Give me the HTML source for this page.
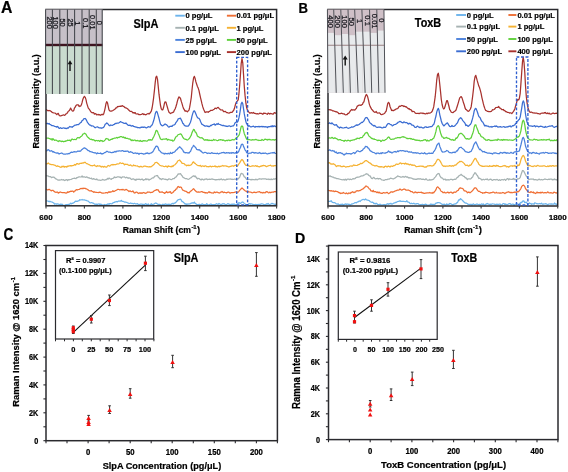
<!DOCTYPE html>
<html><head><meta charset="utf-8"><style>
html,body{margin:0;padding:0;background:#fff;width:568px;height:472px;overflow:hidden}
text{font-family:"Liberation Sans", sans-serif}
text[font-weight="bold"]{stroke:#000;stroke-width:0.22px}
</style></head><body>
<svg width="568" height="472" viewBox="0 0 568 472" style="display:block;filter:blur(0.3px);font-family:'Liberation Sans', sans-serif"><rect width="568" height="472" fill="#fff"/><polyline points="46.0,200.8 46.8,200.9 47.5,201.0 48.3,201.2 49.1,201.8 49.8,201.2 50.6,201.6 51.4,201.9 52.1,202.0 52.9,202.5 53.7,202.9 54.5,204.2 55.2,203.9 56.0,203.9 56.8,204.3 57.5,203.9 58.3,204.0 59.1,204.5 59.8,204.4 60.6,204.2 61.4,204.3 62.1,204.1 62.9,205.0 63.7,205.3 64.4,206.0 65.2,205.0 66.0,204.7 66.8,204.5 67.5,204.6 68.3,204.4 69.1,204.5 69.8,204.0 70.6,203.2 71.4,203.9 72.1,203.2 72.9,203.4 73.7,202.7 74.4,202.4 75.2,201.4 76.0,201.1 76.7,201.3 77.5,201.3 78.3,200.8 79.1,200.6 79.8,199.7 80.6,200.0 81.4,199.8 82.1,199.5 82.9,200.0 83.7,199.9 84.4,199.8 85.2,200.1 86.0,200.3 86.7,200.6 87.5,201.0 88.3,201.2 89.0,201.9 89.8,202.7 90.6,202.9 91.4,202.7 92.1,202.7 92.9,203.2 93.7,203.4 94.4,204.2 95.2,204.1 96.0,204.3 96.7,204.1 97.5,204.4 98.3,204.0 99.0,203.8 99.8,204.4 100.6,204.2 101.3,204.3 102.1,204.9 102.9,205.3 103.7,204.9 104.4,204.5 105.2,204.8 106.0,204.9 106.7,204.7 107.5,204.1 108.3,203.9 109.0,204.3 109.8,203.5 110.6,203.5 111.3,203.8 112.1,203.7 112.9,202.9 113.6,202.6 114.4,202.4 115.2,201.8 115.9,201.9 116.7,201.5 117.5,201.8 118.3,201.1 119.0,201.0 119.8,201.0 120.6,201.2 121.3,200.3 122.1,201.3 122.9,201.3 123.6,201.5 124.4,202.1 125.2,202.0 125.9,202.2 126.7,202.3 127.5,202.8 128.2,203.0 129.0,203.5 129.8,203.3 130.6,203.0 131.3,203.5 132.1,203.3 132.9,203.7 133.6,203.8 134.4,203.3 135.2,203.8 135.9,203.8 136.7,203.8 137.5,203.6 138.2,204.4 139.0,204.8 139.8,204.3 140.5,204.1 141.3,204.2 142.1,204.1 142.9,204.7 143.6,204.3 144.4,204.9 145.2,203.9 145.9,203.7 146.7,204.7 147.5,204.5 148.2,203.9 149.0,205.2 149.8,205.1 150.5,204.9 151.3,203.7 152.1,204.5 152.8,204.4 153.6,204.2 154.4,203.9 155.2,203.1 155.9,203.0 156.7,203.5 157.5,204.1 158.2,204.3 159.0,204.4 159.8,204.4 160.5,204.6 161.3,205.4 162.1,204.9 162.8,204.1 163.6,204.5 164.4,204.4 165.1,204.1 165.9,203.9 166.7,204.6 167.4,204.3 168.2,204.3 169.0,204.1 169.8,204.7 170.5,204.3 171.3,204.1 172.1,203.6 172.8,203.3 173.6,203.9 174.4,203.0 175.1,203.0 175.9,202.3 176.7,201.4 177.4,200.5 178.2,199.6 179.0,199.6 179.7,199.3 180.5,199.1 181.3,200.1 182.1,201.7 182.8,201.7 183.6,202.6 184.4,203.2 185.1,204.1 185.9,203.8 186.7,204.6 187.4,204.0 188.2,204.2 189.0,203.8 189.7,204.0 190.5,203.7 191.3,203.0 192.0,203.3 192.8,202.7 193.6,203.1 194.4,202.1 195.1,203.6 195.9,203.7 196.7,204.6 197.4,204.6 198.2,204.5 199.0,204.4 199.7,204.3 200.5,204.7 201.3,204.5 202.0,203.9 202.8,204.2 203.6,204.6 204.3,204.6 205.1,204.7 205.9,204.8 206.7,203.7 207.4,204.3 208.2,205.0 209.0,204.9 209.7,204.5 210.5,204.1 211.3,204.2 212.0,205.1 212.8,204.6 213.6,204.7 214.3,204.6 215.1,204.8 215.9,204.1 216.6,203.7 217.4,204.1 218.2,204.4 219.0,203.5 219.7,204.0 220.5,204.4 221.3,204.4 222.0,204.3 222.8,203.7 223.6,203.9 224.3,203.8 225.1,204.5 225.9,204.5 226.6,204.6 227.4,203.9 228.2,203.7 228.9,204.2 229.7,204.3 230.5,204.8 231.2,204.3 232.0,204.1 232.8,204.6 233.6,204.1 234.3,204.1 235.1,204.7 235.9,205.0 236.6,204.4 237.4,203.7 238.2,203.6 238.9,202.5 239.7,203.2 240.5,203.5 241.2,202.9 242.0,202.2 242.8,202.0 243.5,202.6 244.3,203.4 245.1,204.1 245.9,204.6 246.6,205.1 247.4,204.7 248.2,204.9 248.9,203.6 249.7,203.6 250.5,204.1 251.2,203.9 252.0,204.0 252.8,204.3 253.5,204.6 254.3,204.5 255.1,204.5 255.8,204.3 256.6,204.5 257.4,204.8 258.2,204.3 258.9,204.5 259.7,204.4 260.5,204.3 261.2,203.9 262.0,203.9 262.8,204.0 263.5,204.4 264.3,204.5 265.1,204.7 265.8,204.4 266.6,203.9 267.4,204.2 268.1,203.5 268.9,204.3 269.7,204.9 270.5,204.1 271.2,204.0 272.0,203.3 272.8,203.8 273.5,203.9 274.3,204.2 275.1,204.4 275.8,204.2 276.6,204.7" fill="none" stroke="#6cb4ec" stroke-width="1.25" stroke-linejoin="round"/><polyline points="46.0,189.0 46.8,189.5 47.5,189.9 48.3,189.6 49.1,189.3 49.8,189.8 50.6,190.3 51.4,190.9 52.1,190.3 52.9,190.3 53.7,191.1 54.5,191.5 55.2,192.2 56.0,192.3 56.8,192.1 57.5,192.0 58.3,193.2 59.1,192.6 59.8,192.2 60.6,192.0 61.4,192.5 62.1,192.6 62.9,192.5 63.7,192.6 64.4,192.7 65.2,192.9 66.0,193.1 66.8,192.8 67.5,191.8 68.3,192.4 69.1,191.7 69.8,191.8 70.6,191.2 71.4,191.4 72.1,191.1 72.9,191.2 73.7,192.2 74.4,191.1 75.2,190.9 76.0,189.9 76.7,189.7 77.5,189.9 78.3,189.5 79.1,189.4 79.8,189.1 80.6,188.5 81.4,188.7 82.1,188.1 82.9,188.8 83.7,188.1 84.4,188.3 85.2,188.3 86.0,188.9 86.7,188.8 87.5,189.7 88.3,189.8 89.0,190.6 89.8,190.8 90.6,190.8 91.4,190.7 92.1,191.4 92.9,191.6 93.7,192.3 94.4,191.9 95.2,192.2 96.0,192.4 96.7,192.4 97.5,192.5 98.3,192.6 99.0,192.3 99.8,192.1 100.6,192.3 101.3,192.7 102.1,193.2 102.9,193.2 103.7,193.2 104.4,193.0 105.2,192.9 106.0,192.6 106.7,192.7 107.5,193.0 108.3,192.2 109.0,191.7 109.8,192.4 110.6,191.9 111.3,191.8 112.1,191.6 112.9,190.7 113.6,191.5 114.4,191.4 115.2,190.7 115.9,190.5 116.7,190.0 117.5,189.4 118.3,189.4 119.0,189.5 119.8,189.8 120.6,189.7 121.3,189.5 122.1,189.9 122.9,189.3 123.6,189.8 124.4,190.2 125.2,189.9 125.9,189.4 126.7,189.6 127.5,190.3 128.2,190.8 129.0,191.5 129.8,190.9 130.6,191.2 131.3,191.7 132.1,191.7 132.9,190.9 133.6,192.0 134.4,193.0 135.2,192.9 135.9,192.2 136.7,192.2 137.5,192.5 138.2,193.5 139.0,193.1 139.8,192.8 140.5,193.3 141.3,192.8 142.1,193.4 142.9,192.7 143.6,192.5 144.4,192.9 145.2,193.3 145.9,193.1 146.7,192.9 147.5,192.0 148.2,192.1 149.0,192.2 149.8,192.2 150.5,192.6 151.3,192.3 152.1,192.4 152.8,192.0 153.6,191.3 154.4,190.8 155.2,190.4 155.9,190.2 156.7,189.6 157.5,189.9 158.2,189.9 159.0,191.5 159.8,192.3 160.5,192.2 161.3,192.1 162.1,191.9 162.8,192.3 163.6,192.5 164.4,193.4 165.1,192.9 165.9,192.4 166.7,191.5 167.4,192.7 168.2,192.6 169.0,191.9 169.8,192.3 170.5,191.7 171.3,193.4 172.1,193.0 172.8,192.5 173.6,191.8 174.4,190.5 175.1,190.3 175.9,189.1 176.7,188.9 177.4,187.2 178.2,186.5 179.0,186.9 179.7,187.4 180.5,187.0 181.3,187.3 182.1,189.0 182.8,190.2 183.6,190.3 184.4,190.9 185.1,191.2 185.9,191.3 186.7,191.6 187.4,192.5 188.2,192.5 189.0,193.0 189.7,192.1 190.5,191.5 191.3,190.6 192.0,190.2 192.8,189.3 193.6,188.7 194.4,189.6 195.1,190.6 195.9,191.2 196.7,192.0 197.4,192.1 198.2,191.9 199.0,192.2 199.7,192.2 200.5,192.0 201.3,191.6 202.0,191.6 202.8,192.2 203.6,192.4 204.3,192.3 205.1,193.0 205.9,192.7 206.7,192.8 207.4,193.1 208.2,192.4 209.0,191.7 209.7,192.5 210.5,192.3 211.3,192.9 212.0,192.8 212.8,193.0 213.6,193.0 214.3,191.9 215.1,192.6 215.9,192.3 216.6,192.1 217.4,192.2 218.2,192.7 219.0,192.9 219.7,193.0 220.5,192.1 221.3,192.1 222.0,191.5 222.8,192.1 223.6,192.6 224.3,192.2 225.1,192.5 225.9,192.6 226.6,192.9 227.4,192.3 228.2,192.1 228.9,192.1 229.7,193.0 230.5,193.1 231.2,192.6 232.0,192.6 232.8,192.5 233.6,192.5 234.3,192.4 235.1,192.2 235.9,191.8 236.6,191.8 237.4,192.5 238.2,192.1 238.9,191.3 239.7,190.3 240.5,189.4 241.2,188.7 242.0,188.0 242.8,188.5 243.5,189.5 244.3,190.1 245.1,190.7 245.9,191.2 246.6,191.4 247.4,192.3 248.2,191.4 248.9,191.9 249.7,192.0 250.5,192.0 251.2,192.3 252.0,192.8 252.8,192.6 253.5,192.4 254.3,192.2 255.1,192.3 255.8,192.7 256.6,192.4 257.4,192.0 258.2,191.8 258.9,191.8 259.7,191.7 260.5,192.6 261.2,192.6 262.0,192.4 262.8,193.0 263.5,192.4 264.3,192.7 265.1,192.8 265.8,192.0 266.6,191.7 267.4,191.8 268.1,192.5 268.9,192.9 269.7,192.1 270.5,192.7 271.2,192.4 272.0,192.2 272.8,192.1 273.5,192.2 274.3,191.6 275.1,191.7 275.8,191.7 276.6,192.3" fill="none" stroke="#ef6f35" stroke-width="1.25" stroke-linejoin="round"/><polyline points="46.0,175.4 46.8,175.9 47.5,175.9 48.3,176.0 49.1,176.7 49.8,176.7 50.6,176.7 51.4,177.7 52.1,177.3 52.9,177.1 53.7,177.1 54.5,177.6 55.2,178.4 56.0,178.9 56.8,179.3 57.5,179.9 58.3,180.1 59.1,179.9 59.8,180.1 60.6,180.0 61.4,179.5 62.1,179.9 62.9,179.8 63.7,179.7 64.4,180.5 65.2,180.3 66.0,179.7 66.8,179.6 67.5,180.5 68.3,179.7 69.1,179.8 69.8,179.6 70.6,179.5 71.4,179.4 72.1,178.8 72.9,178.5 73.7,178.4 74.4,178.1 75.2,178.4 76.0,178.6 76.7,177.6 77.5,177.7 78.3,177.1 79.1,176.9 79.8,176.9 80.6,177.0 81.4,176.8 82.1,175.9 82.9,177.1 83.7,176.9 84.4,176.8 85.2,177.3 86.0,177.1 86.7,176.8 87.5,177.5 88.3,177.9 89.0,177.6 89.8,178.3 90.6,178.5 91.4,178.1 92.1,179.2 92.9,179.1 93.7,178.6 94.4,179.1 95.2,179.3 96.0,179.7 96.7,179.0 97.5,179.8 98.3,180.0 99.0,180.0 99.8,180.0 100.6,180.3 101.3,180.2 102.1,179.9 102.9,179.4 103.7,180.0 104.4,180.1 105.2,179.8 106.0,179.6 106.7,179.7 107.5,178.4 108.3,179.0 109.0,178.0 109.8,178.6 110.6,179.0 111.3,179.4 112.1,178.5 112.9,178.4 113.6,178.0 114.4,177.0 115.2,177.6 115.9,177.4 116.7,177.3 117.5,176.8 118.3,176.9 119.0,176.9 119.8,177.3 120.6,177.1 121.3,178.2 122.1,177.2 122.9,176.9 123.6,177.0 124.4,176.8 125.2,177.7 125.9,177.8 126.7,177.2 127.5,177.7 128.2,178.4 129.0,177.7 129.8,178.2 130.6,178.4 131.3,179.5 132.1,179.3 132.9,178.9 133.6,178.9 134.4,179.8 135.2,179.3 135.9,180.3 136.7,179.1 137.5,179.3 138.2,179.4 139.0,179.2 139.8,179.4 140.5,179.8 141.3,179.4 142.1,179.0 142.9,179.9 143.6,180.3 144.4,179.6 145.2,179.7 145.9,178.7 146.7,179.7 147.5,179.1 148.2,179.2 149.0,180.2 149.8,179.3 150.5,179.3 151.3,178.8 152.1,178.1 152.8,177.8 153.6,177.8 154.4,176.6 155.2,176.0 155.9,175.9 156.7,175.7 157.5,175.5 158.2,177.1 159.0,177.7 159.8,178.8 160.5,178.6 161.3,179.7 162.1,179.0 162.8,178.6 163.6,179.0 164.4,179.2 165.1,179.5 165.9,179.2 166.7,179.6 167.4,180.0 168.2,179.4 169.0,178.9 169.8,179.0 170.5,179.5 171.3,179.7 172.1,179.2 172.8,178.6 173.6,178.5 174.4,178.5 175.1,177.4 175.9,177.2 176.7,176.1 177.4,175.1 178.2,173.9 179.0,174.1 179.7,173.8 180.5,173.6 181.3,175.0 182.1,175.7 182.8,177.1 183.6,177.7 184.4,178.0 185.1,178.6 185.9,178.7 186.7,178.6 187.4,179.0 188.2,179.3 189.0,179.0 189.7,178.6 190.5,177.9 191.3,177.6 192.0,176.8 192.8,176.3 193.6,175.8 194.4,176.6 195.1,176.0 195.9,177.0 196.7,178.0 197.4,178.9 198.2,178.4 199.0,178.5 199.7,179.0 200.5,179.7 201.3,179.9 202.0,179.0 202.8,179.3 203.6,179.9 204.3,179.6 205.1,179.1 205.9,179.1 206.7,178.8 207.4,179.7 208.2,179.4 209.0,179.3 209.7,179.1 210.5,179.3 211.3,179.1 212.0,178.9 212.8,179.3 213.6,179.3 214.3,179.6 215.1,179.6 215.9,180.0 216.6,179.6 217.4,179.6 218.2,179.6 219.0,179.2 219.7,179.8 220.5,179.4 221.3,178.8 222.0,179.7 222.8,179.8 223.6,179.3 224.3,179.8 225.1,179.9 225.9,179.9 226.6,179.1 227.4,179.4 228.2,179.0 228.9,179.0 229.7,179.0 230.5,178.9 231.2,179.4 232.0,179.1 232.8,179.5 233.6,179.4 234.3,179.1 235.1,179.2 235.9,179.4 236.6,179.6 237.4,178.9 238.2,179.0 238.9,178.0 239.7,177.1 240.5,174.8 241.2,173.4 242.0,173.7 242.8,173.9 243.5,175.3 244.3,176.9 245.1,177.2 245.9,178.4 246.6,179.5 247.4,179.6 248.2,179.4 248.9,179.5 249.7,179.4 250.5,179.6 251.2,179.9 252.0,179.4 252.8,179.6 253.5,179.5 254.3,179.7 255.1,179.8 255.8,179.1 256.6,179.7 257.4,179.8 258.2,179.1 258.9,179.1 259.7,178.7 260.5,179.0 261.2,179.3 262.0,178.9 262.8,178.9 263.5,178.8 264.3,178.9 265.1,178.9 265.8,178.8 266.6,179.4 267.4,179.3 268.1,179.0 268.9,179.6 269.7,179.2 270.5,179.6 271.2,179.0 272.0,179.7 272.8,179.3 273.5,178.9 274.3,179.3 275.1,178.8 275.8,178.7 276.6,179.2" fill="none" stroke="#a6b2b2" stroke-width="1.25" stroke-linejoin="round"/><polyline points="46.0,163.5 46.8,164.1 47.5,163.5 48.3,163.0 49.1,163.7 49.8,164.2 50.6,164.4 51.4,164.7 52.1,164.7 52.9,164.7 53.7,164.8 54.5,165.1 55.2,165.3 56.0,166.0 56.8,166.3 57.5,165.8 58.3,166.4 59.1,166.4 59.8,166.9 60.6,167.3 61.4,167.1 62.1,166.2 62.9,166.8 63.7,166.1 64.4,167.1 65.2,166.6 66.0,166.5 66.8,167.2 67.5,166.1 68.3,166.3 69.1,165.8 69.8,165.8 70.6,165.6 71.4,166.0 72.1,165.6 72.9,165.6 73.7,165.5 74.4,164.5 75.2,165.1 76.0,164.6 76.7,163.7 77.5,163.6 78.3,164.1 79.1,164.2 79.8,163.4 80.6,163.3 81.4,163.2 82.1,163.3 82.9,162.8 83.7,163.0 84.4,162.3 85.2,162.3 86.0,163.1 86.7,163.7 87.5,163.8 88.3,164.3 89.0,164.6 89.8,165.0 90.6,165.5 91.4,165.5 92.1,165.8 92.9,165.6 93.7,165.5 94.4,164.9 95.2,165.9 96.0,166.1 96.7,166.5 97.5,165.7 98.3,166.0 99.0,166.2 99.8,165.7 100.6,166.6 101.3,167.1 102.1,166.3 102.9,166.6 103.7,167.2 104.4,166.3 105.2,166.7 106.0,167.1 106.7,167.2 107.5,166.0 108.3,165.5 109.0,165.8 109.8,166.1 110.6,165.2 111.3,164.9 112.1,164.5 112.9,165.1 113.6,164.5 114.4,164.6 115.2,164.5 115.9,164.5 116.7,164.1 117.5,163.9 118.3,164.0 119.0,163.7 119.8,162.9 120.6,162.9 121.3,163.5 122.1,163.4 122.9,163.2 123.6,163.5 124.4,164.9 125.2,164.2 125.9,164.3 126.7,164.4 127.5,164.3 128.2,165.0 129.0,165.3 129.8,165.3 130.6,164.8 131.3,165.7 132.1,166.0 132.9,165.9 133.6,164.9 134.4,165.6 135.2,165.5 135.9,165.9 136.7,166.0 137.5,165.9 138.2,166.7 139.0,166.6 139.8,167.0 140.5,166.3 141.3,166.4 142.1,167.0 142.9,166.8 143.6,166.4 144.4,166.1 145.2,166.2 145.9,166.4 146.7,166.7 147.5,166.6 148.2,166.8 149.0,166.9 149.8,166.6 150.5,166.9 151.3,166.7 152.1,166.0 152.8,165.4 153.6,164.8 154.4,163.8 155.2,162.7 155.9,162.5 156.7,162.3 157.5,163.1 158.2,163.5 159.0,164.4 159.8,165.2 160.5,165.5 161.3,166.0 162.1,165.9 162.8,166.0 163.6,166.5 164.4,166.6 165.1,166.4 165.9,166.1 166.7,166.5 167.4,167.2 168.2,165.8 169.0,166.5 169.8,166.4 170.5,166.7 171.3,166.8 172.1,165.9 172.8,166.5 173.6,165.5 174.4,165.0 175.1,164.7 175.9,163.7 176.7,162.9 177.4,161.6 178.2,160.5 179.0,160.3 179.7,160.0 180.5,161.3 181.3,162.0 182.1,163.3 182.8,163.3 183.6,163.5 184.4,163.8 185.1,164.9 185.9,165.0 186.7,165.8 187.4,165.3 188.2,165.1 189.0,165.6 189.7,165.3 190.5,165.2 191.3,164.7 192.0,163.8 192.8,162.4 193.6,161.9 194.4,163.2 195.1,163.3 195.9,164.1 196.7,164.8 197.4,165.3 198.2,165.7 199.0,165.7 199.7,165.8 200.5,165.3 201.3,166.6 202.0,166.3 202.8,165.8 203.6,166.3 204.3,166.5 205.1,165.8 205.9,165.9 206.7,166.7 207.4,166.7 208.2,166.6 209.0,166.8 209.7,166.4 210.5,166.2 211.3,166.9 212.0,166.4 212.8,166.3 213.6,166.5 214.3,166.4 215.1,165.8 215.9,166.9 216.6,166.5 217.4,167.0 218.2,166.7 219.0,166.1 219.7,166.8 220.5,166.4 221.3,166.0 222.0,166.1 222.8,165.4 223.6,166.1 224.3,165.9 225.1,166.0 225.9,165.8 226.6,166.3 227.4,166.4 228.2,166.7 228.9,167.0 229.7,166.6 230.5,166.3 231.2,166.3 232.0,165.9 232.8,165.8 233.6,166.3 234.3,165.8 235.1,165.2 235.9,165.5 236.6,165.8 237.4,166.1 238.2,165.0 238.9,163.8 239.7,162.9 240.5,161.4 241.2,160.3 242.0,159.5 242.8,160.2 243.5,161.3 244.3,163.2 245.1,164.4 245.9,165.3 246.6,165.4 247.4,165.2 248.2,165.7 248.9,165.9 249.7,166.4 250.5,166.5 251.2,166.2 252.0,166.1 252.8,165.7 253.5,165.9 254.3,166.1 255.1,165.9 255.8,165.6 256.6,166.4 257.4,165.9 258.2,166.7 258.9,166.7 259.7,166.9 260.5,166.1 261.2,166.3 262.0,165.6 262.8,165.8 263.5,165.4 264.3,165.6 265.1,165.7 265.8,166.3 266.6,166.6 267.4,166.1 268.1,166.0 268.9,165.7 269.7,165.5 270.5,165.2 271.2,165.7 272.0,166.2 272.8,165.8 273.5,166.1 274.3,165.6 275.1,165.5 275.8,165.6 276.6,166.2" fill="none" stroke="#f5b233" stroke-width="1.25" stroke-linejoin="round"/><polyline points="46.0,150.8 46.8,150.8 47.5,150.0 48.3,149.6 49.1,150.3 49.8,151.0 50.6,151.0 51.4,150.7 52.1,151.1 52.9,152.1 53.7,151.6 54.5,152.5 55.2,152.7 56.0,152.9 56.8,153.2 57.5,152.9 58.3,153.1 59.1,154.0 59.8,153.5 60.6,153.4 61.4,153.0 62.1,153.2 62.9,153.8 63.7,154.2 64.4,154.1 65.2,154.0 66.0,154.0 66.8,153.8 67.5,154.0 68.3,153.5 69.1,153.8 69.8,153.3 70.6,152.5 71.4,152.2 72.1,152.4 72.9,152.3 73.7,151.8 74.4,151.7 75.2,151.9 76.0,151.9 76.7,151.9 77.5,151.2 78.3,151.2 79.1,151.4 79.8,151.0 80.6,151.1 81.4,150.0 82.1,149.4 82.9,148.8 83.7,148.1 84.4,147.9 85.2,148.2 86.0,148.7 86.7,149.3 87.5,150.0 88.3,150.7 89.0,150.7 89.8,151.6 90.6,151.5 91.4,152.0 92.1,151.9 92.9,152.5 93.7,152.6 94.4,152.8 95.2,152.7 96.0,153.1 96.7,153.8 97.5,152.9 98.3,153.4 99.0,153.5 99.8,153.4 100.6,153.0 101.3,153.9 102.1,153.7 102.9,153.8 103.7,153.2 104.4,152.6 105.2,152.6 106.0,152.0 106.7,151.3 107.5,151.4 108.3,152.1 109.0,152.1 109.8,152.1 110.6,152.3 111.3,152.7 112.1,152.6 112.9,152.2 113.6,152.4 114.4,151.8 115.2,151.3 115.9,152.1 116.7,151.2 117.5,151.2 118.3,151.1 119.0,150.9 119.8,150.8 120.6,151.0 121.3,151.0 122.1,150.6 122.9,150.7 123.6,151.3 124.4,151.4 125.2,151.1 125.9,151.3 126.7,151.1 127.5,151.0 128.2,151.4 129.0,152.4 129.8,152.1 130.6,151.6 131.3,152.2 132.1,152.3 132.9,152.9 133.6,153.4 134.4,153.1 135.2,153.2 135.9,152.9 136.7,153.6 137.5,153.2 138.2,153.3 139.0,154.3 139.8,153.4 140.5,153.5 141.3,153.4 142.1,153.6 142.9,153.7 143.6,154.1 144.4,153.8 145.2,153.8 145.9,153.1 146.7,153.4 147.5,152.9 148.2,153.6 149.0,153.4 149.8,153.6 150.5,153.0 151.3,152.9 152.1,152.4 152.8,151.8 153.6,150.5 154.4,148.9 155.2,147.6 155.9,146.4 156.7,146.1 157.5,146.6 158.2,147.7 159.0,150.2 159.8,150.9 160.5,151.5 161.3,152.7 162.1,153.0 162.8,153.0 163.6,153.6 164.4,154.0 165.1,153.2 165.9,153.7 166.7,153.6 167.4,153.8 168.2,153.2 169.0,153.8 169.8,153.8 170.5,152.4 171.3,153.3 172.1,153.5 172.8,152.4 173.6,152.5 174.4,151.9 175.1,151.4 175.9,150.3 176.7,149.8 177.4,149.0 178.2,148.0 179.0,147.4 179.7,146.7 180.5,147.8 181.3,148.2 182.1,149.4 182.8,150.1 183.6,152.1 184.4,152.1 185.1,152.9 185.9,152.7 186.7,152.7 187.4,153.0 188.2,152.7 189.0,153.2 189.7,152.0 190.5,151.5 191.3,149.4 192.0,147.7 192.8,146.8 193.6,145.3 194.4,146.4 195.1,147.0 195.9,147.9 196.7,149.5 197.4,149.7 198.2,150.0 199.0,149.6 199.7,150.0 200.5,151.0 201.3,151.0 202.0,152.2 202.8,152.9 203.6,153.0 204.3,152.4 205.1,152.5 205.9,152.4 206.7,153.1 207.4,153.5 208.2,153.2 209.0,153.2 209.7,153.3 210.5,153.5 211.3,152.9 212.0,152.7 212.8,153.3 213.6,153.4 214.3,153.4 215.1,153.3 215.9,153.5 216.6,153.5 217.4,153.1 218.2,153.8 219.0,153.8 219.7,153.3 220.5,153.2 221.3,152.9 222.0,152.6 222.8,152.6 223.6,152.4 224.3,152.6 225.1,153.1 225.9,153.1 226.6,152.6 227.4,152.9 228.2,152.8 228.9,152.6 229.7,153.3 230.5,152.8 231.2,153.3 232.0,152.5 232.8,152.9 233.6,152.7 234.3,153.2 235.1,153.1 235.9,152.6 236.6,152.8 237.4,152.8 238.2,152.2 238.9,151.1 239.7,148.8 240.5,147.5 241.2,145.0 242.0,144.1 242.8,144.3 243.5,146.4 244.3,148.0 245.1,150.1 245.9,150.8 246.6,152.6 247.4,153.0 248.2,153.5 248.9,153.5 249.7,153.2 250.5,153.2 251.2,153.1 252.0,152.3 252.8,152.3 253.5,152.6 254.3,153.2 255.1,152.6 255.8,152.9 256.6,152.8 257.4,153.2 258.2,153.4 258.9,152.8 259.7,152.5 260.5,153.4 261.2,153.6 262.0,153.2 262.8,153.4 263.5,153.2 264.3,153.3 265.1,153.0 265.8,153.2 266.6,153.7 267.4,153.8 268.1,153.8 268.9,153.3 269.7,153.5 270.5,153.0 271.2,152.9 272.0,153.0 272.8,152.6 273.5,152.9 274.3,152.3 275.1,153.4 275.8,153.5 276.6,153.3" fill="none" stroke="#4c82dc" stroke-width="1.25" stroke-linejoin="round"/><polyline points="46.0,138.2 46.8,138.2 47.5,138.2 48.3,138.1 49.1,138.5 49.8,138.7 50.6,139.3 51.4,138.8 52.1,140.2 52.9,138.6 53.7,139.5 54.5,140.3 55.2,140.2 56.0,140.1 56.8,140.5 57.5,141.0 58.3,141.5 59.1,140.6 59.8,141.1 60.6,141.0 61.4,141.6 62.1,141.2 62.9,141.4 63.7,141.8 64.4,141.4 65.2,141.4 66.0,140.9 66.8,140.9 67.5,140.2 68.3,140.3 69.1,140.4 69.8,140.2 70.6,141.1 71.4,139.6 72.1,138.9 72.9,139.5 73.7,139.7 74.4,139.4 75.2,139.5 76.0,139.7 76.7,138.6 77.5,137.7 78.3,137.7 79.1,138.0 79.8,137.6 80.6,136.8 81.4,136.3 82.1,135.6 82.9,134.0 83.7,133.9 84.4,133.2 85.2,133.6 86.0,134.3 86.7,135.6 87.5,137.0 88.3,137.5 89.0,138.2 89.8,139.0 90.6,139.3 91.4,139.1 92.1,139.8 92.9,139.7 93.7,139.9 94.4,140.3 95.2,141.0 96.0,140.4 96.7,140.5 97.5,140.8 98.3,140.5 99.0,140.8 99.8,141.4 100.6,140.4 101.3,140.8 102.1,140.6 102.9,141.5 103.7,141.1 104.4,140.7 105.2,139.8 106.0,138.6 106.7,138.5 107.5,138.9 108.3,139.2 109.0,140.3 109.8,140.2 110.6,139.5 111.3,139.2 112.1,139.3 112.9,138.5 113.6,138.5 114.4,138.2 115.2,138.2 115.9,138.0 116.7,137.5 117.5,138.0 118.3,137.3 119.0,137.5 119.8,136.9 120.6,136.6 121.3,136.7 122.1,136.9 122.9,137.5 123.6,136.9 124.4,138.0 125.2,137.4 125.9,138.4 126.7,138.4 127.5,138.3 128.2,138.9 129.0,138.8 129.8,139.1 130.6,139.4 131.3,140.7 132.1,139.8 132.9,140.7 133.6,140.3 134.4,140.0 135.2,140.1 135.9,140.9 136.7,140.6 137.5,140.4 138.2,140.9 139.0,140.9 139.8,141.3 140.5,140.5 141.3,141.3 142.1,141.5 142.9,140.8 143.6,140.7 144.4,140.9 145.2,140.7 145.9,141.0 146.7,141.1 147.5,140.8 148.2,140.2 149.0,139.6 149.8,140.2 150.5,139.6 151.3,140.1 152.1,139.9 152.8,138.4 153.6,137.0 154.4,135.3 155.2,133.2 155.9,130.9 156.7,130.4 157.5,131.4 158.2,133.4 159.0,135.1 159.8,137.2 160.5,139.0 161.3,139.3 162.1,139.6 162.8,139.2 163.6,139.1 164.4,139.2 165.1,139.1 165.9,138.8 166.7,138.7 167.4,140.2 168.2,139.3 169.0,139.8 169.8,139.8 170.5,140.1 171.3,140.4 172.1,140.0 172.8,141.2 173.6,140.8 174.4,139.8 175.1,138.4 175.9,136.8 176.7,136.5 177.4,135.6 178.2,134.5 179.0,134.3 179.7,134.1 180.5,133.8 181.3,134.2 182.1,135.7 182.8,137.1 183.6,138.3 184.4,139.0 185.1,139.3 185.9,139.2 186.7,139.8 187.4,140.0 188.2,139.4 189.0,138.7 189.7,138.0 190.5,136.5 191.3,135.1 192.0,132.6 192.8,131.0 193.6,129.4 194.4,129.9 195.1,131.9 195.9,132.4 196.7,134.0 197.4,136.1 198.2,136.7 199.0,137.0 199.7,137.6 200.5,137.9 201.3,137.9 202.0,137.7 202.8,138.6 203.6,139.2 204.3,140.1 205.1,140.2 205.9,139.6 206.7,140.2 207.4,139.7 208.2,140.5 209.0,139.9 209.7,140.5 210.5,140.4 211.3,140.1 212.0,140.7 212.8,140.3 213.6,139.3 214.3,140.1 215.1,139.9 215.9,140.0 216.6,140.3 217.4,140.6 218.2,140.4 219.0,139.9 219.7,139.9 220.5,139.7 221.3,139.9 222.0,139.9 222.8,140.4 223.6,140.0 224.3,140.5 225.1,141.0 225.9,140.7 226.6,140.3 227.4,140.7 228.2,140.0 228.9,140.0 229.7,140.6 230.5,140.4 231.2,140.1 232.0,139.8 232.8,139.5 233.6,139.9 234.3,139.9 235.1,139.2 235.9,138.1 236.6,137.7 237.4,137.0 238.2,136.2 238.9,135.4 239.7,133.2 240.5,129.5 241.2,126.6 242.0,126.0 242.8,126.7 243.5,130.3 244.3,133.7 245.1,135.5 245.9,137.4 246.6,139.0 247.4,139.8 248.2,139.7 248.9,139.7 249.7,139.7 250.5,140.0 251.2,140.2 252.0,139.9 252.8,139.7 253.5,139.8 254.3,139.8 255.1,139.7 255.8,139.4 256.6,139.8 257.4,140.2 258.2,140.1 258.9,140.5 259.7,140.3 260.5,140.4 261.2,140.5 262.0,139.4 262.8,140.0 263.5,140.4 264.3,139.7 265.1,139.1 265.8,139.3 266.6,139.6 267.4,140.0 268.1,139.3 268.9,139.7 269.7,139.4 270.5,139.8 271.2,139.8 272.0,140.0 272.8,139.7 273.5,139.7 274.3,140.2 275.1,139.5 275.8,139.8 276.6,139.6" fill="none" stroke="#5fd13b" stroke-width="1.25" stroke-linejoin="round"/><polyline points="46.0,123.2 46.8,123.7 47.5,123.3 48.3,123.9 49.1,123.5 49.8,124.3 50.6,124.5 51.4,125.4 52.1,125.7 52.9,125.7 53.7,125.8 54.5,126.3 55.2,126.5 56.0,126.5 56.8,127.2 57.5,126.4 58.3,127.2 59.1,128.4 59.8,128.3 60.6,127.6 61.4,128.4 62.1,128.3 62.9,128.0 63.7,127.9 64.4,128.1 65.2,128.5 66.0,128.2 66.8,128.7 67.5,127.9 68.3,128.1 69.1,127.1 69.8,126.5 70.6,126.8 71.4,126.9 72.1,127.3 72.9,126.5 73.7,126.2 74.4,125.3 75.2,125.2 76.0,125.2 76.7,124.6 77.5,124.7 78.3,124.7 79.1,124.1 79.8,123.3 80.6,122.6 81.4,122.1 82.1,120.6 82.9,120.2 83.7,118.9 84.4,118.7 85.2,118.5 86.0,119.4 86.7,120.7 87.5,122.4 88.3,123.5 89.0,124.3 89.8,125.2 90.6,125.1 91.4,126.0 92.1,125.9 92.9,126.0 93.7,126.3 94.4,127.2 95.2,127.8 96.0,127.3 96.7,127.0 97.5,126.8 98.3,127.4 99.0,127.8 99.8,127.9 100.6,127.9 101.3,128.3 102.1,127.9 102.9,127.8 103.7,127.2 104.4,126.1 105.2,124.3 106.0,123.7 106.7,123.0 107.5,123.4 108.3,124.3 109.0,125.3 109.8,125.8 110.6,125.0 111.3,125.2 112.1,125.4 112.9,125.1 113.6,124.6 114.4,124.4 115.2,123.4 115.9,123.6 116.7,123.2 117.5,123.1 118.3,123.1 119.0,122.8 119.8,122.2 120.6,121.6 121.3,122.0 122.1,122.4 122.9,122.7 123.6,123.2 124.4,123.3 125.2,123.5 125.9,123.0 126.7,124.0 127.5,124.3 128.2,125.4 129.0,125.5 129.8,125.1 130.6,125.6 131.3,126.1 132.1,125.9 132.9,125.7 133.6,126.5 134.4,126.6 135.2,126.8 135.9,127.1 136.7,127.1 137.5,127.6 138.2,127.6 139.0,127.6 139.8,127.9 140.5,127.6 141.3,127.1 142.1,127.4 142.9,127.0 143.6,127.4 144.4,127.0 145.2,127.3 145.9,127.8 146.7,127.8 147.5,127.2 148.2,126.7 149.0,126.8 149.8,127.2 150.5,126.9 151.3,125.5 152.1,125.0 152.8,123.2 153.6,120.8 154.4,118.0 155.2,114.0 155.9,111.9 156.7,111.3 157.5,113.1 158.2,115.6 159.0,118.3 159.8,121.6 160.5,124.1 161.3,125.1 162.1,125.6 162.8,125.8 163.6,125.3 164.4,124.5 165.1,123.9 165.9,124.6 166.7,124.8 167.4,125.6 168.2,126.7 169.0,127.2 169.8,126.4 170.5,126.4 171.3,126.1 172.1,126.3 172.8,125.4 173.6,125.0 174.4,124.8 175.1,124.3 175.9,122.6 176.7,121.6 177.4,120.7 178.2,118.8 179.0,118.7 179.7,118.4 180.5,118.2 181.3,119.9 182.1,121.5 182.8,123.4 183.6,123.9 184.4,125.6 185.1,125.7 185.9,126.1 186.7,126.0 187.4,126.2 188.2,126.2 189.0,125.2 189.7,123.7 190.5,122.2 191.3,119.3 192.0,116.2 192.8,113.4 193.6,111.1 194.4,110.9 195.1,112.1 195.9,113.9 196.7,115.9 197.4,117.4 198.2,118.2 199.0,118.4 199.7,119.3 200.5,121.4 201.3,123.1 202.0,124.4 202.8,124.6 203.6,125.4 204.3,125.6 205.1,126.1 205.9,126.2 206.7,125.8 207.4,126.3 208.2,126.1 209.0,126.8 209.7,126.5 210.5,125.3 211.3,125.6 212.0,124.9 212.8,124.5 213.6,124.4 214.3,123.8 215.1,125.1 215.9,124.6 216.6,123.8 217.4,124.3 218.2,123.3 219.0,124.4 219.7,124.5 220.5,124.7 221.3,125.2 222.0,125.3 222.8,125.6 223.6,125.3 224.3,125.9 225.1,125.9 225.9,126.3 226.6,126.2 227.4,126.5 228.2,126.2 228.9,125.9 229.7,125.9 230.5,126.6 231.2,126.3 232.0,126.2 232.8,125.8 233.6,125.8 234.3,124.5 235.1,122.7 235.9,122.2 236.6,121.9 237.4,122.2 238.2,120.6 238.9,117.9 239.7,114.0 240.5,108.9 241.2,103.7 242.0,102.2 242.8,103.8 243.5,108.7 244.3,113.9 245.1,118.0 245.9,121.6 246.6,123.7 247.4,124.7 248.2,126.4 248.9,125.6 249.7,126.2 250.5,126.8 251.2,126.8 252.0,126.7 252.8,126.3 253.5,126.2 254.3,126.9 255.1,127.2 255.8,126.5 256.6,126.7 257.4,126.6 258.2,126.8 258.9,126.4 259.7,126.9 260.5,126.5 261.2,126.6 262.0,126.3 262.8,126.9 263.5,126.5 264.3,126.8 265.1,126.6 265.8,126.9 266.6,126.8 267.4,127.6 268.1,126.6 268.9,126.9 269.7,126.5 270.5,126.5 271.2,125.9 272.0,126.8 272.8,125.7 273.5,126.5 274.3,125.9 275.1,126.2 275.8,126.6 276.6,126.2" fill="none" stroke="#3b6dd2" stroke-width="1.25" stroke-linejoin="round"/><polyline points="46.0,109.6 46.8,109.9 47.5,110.6 48.3,110.5 49.1,110.8 49.8,110.5 50.6,111.1 51.4,111.5 52.1,112.4 52.9,112.7 53.7,112.9 54.5,113.0 55.2,113.2 56.0,113.8 56.8,114.7 57.5,113.9 58.3,113.4 59.1,115.3 59.8,115.9 60.6,115.8 61.4,115.7 62.1,115.3 62.9,115.2 63.7,114.8 64.4,115.3 65.2,115.0 66.0,113.9 66.8,113.5 67.5,112.6 68.3,111.2 69.1,110.8 69.8,109.9 70.6,108.1 71.4,109.5 72.1,110.7 72.9,111.2 73.7,110.6 74.4,108.2 75.2,107.2 76.0,105.4 76.7,104.9 77.5,104.8 78.3,104.8 79.1,106.6 79.8,106.0 80.6,106.2 81.4,104.8 82.1,102.4 82.9,99.2 83.7,97.3 84.4,96.3 85.2,97.3 86.0,99.6 86.7,103.1 87.5,105.6 88.3,108.1 89.0,108.9 89.8,110.0 90.6,111.4 91.4,112.3 92.1,112.8 92.9,112.7 93.7,112.7 94.4,114.1 95.2,113.7 96.0,113.9 96.7,114.9 97.5,114.7 98.3,114.4 99.0,115.0 99.8,114.7 100.6,115.3 101.3,114.8 102.1,114.2 102.9,114.9 103.7,113.8 104.4,111.3 105.2,107.8 106.0,103.5 106.7,101.7 107.5,102.8 108.3,106.7 109.0,109.8 109.8,110.9 110.6,111.1 111.3,111.2 112.1,110.8 112.9,110.5 113.6,110.0 114.4,109.4 115.2,109.0 115.9,107.8 116.7,107.8 117.5,106.5 118.3,106.6 119.0,106.4 119.8,106.4 120.6,106.2 121.3,106.3 122.1,105.6 122.9,106.1 123.6,106.3 124.4,107.1 125.2,107.6 125.9,107.9 126.7,108.3 127.5,108.7 128.2,109.5 129.0,110.3 129.8,111.1 130.6,111.3 131.3,111.4 132.1,111.8 132.9,112.8 133.6,112.6 134.4,113.1 135.2,112.6 135.9,113.8 136.7,114.0 137.5,113.9 138.2,114.1 139.0,114.6 139.8,114.5 140.5,114.6 141.3,114.5 142.1,114.0 142.9,113.6 143.6,114.5 144.4,114.2 145.2,114.7 145.9,114.8 146.7,114.2 147.5,113.8 148.2,113.5 149.0,114.1 149.8,113.3 150.5,112.3 151.3,111.2 152.1,108.0 152.8,103.7 153.6,97.8 154.4,90.6 155.2,82.6 155.9,77.1 156.7,76.2 157.5,79.4 158.2,86.1 159.0,94.2 159.8,100.4 160.5,105.5 161.3,108.8 162.1,109.8 162.8,109.9 163.6,107.3 164.4,103.6 165.1,101.8 165.9,102.0 166.7,104.8 167.4,107.2 168.2,110.1 169.0,112.3 169.8,112.9 170.5,113.5 171.3,112.9 172.1,112.9 172.8,112.3 173.6,112.1 174.4,110.1 175.1,109.0 175.9,106.7 176.7,104.0 177.4,101.1 178.2,98.5 179.0,96.9 179.7,97.5 180.5,98.5 181.3,101.4 182.1,103.9 182.8,106.4 183.6,108.7 184.4,109.9 185.1,111.2 185.9,110.9 186.7,111.3 187.4,111.8 188.2,110.9 189.0,110.1 189.7,107.2 190.5,102.5 191.3,97.3 192.0,90.0 192.8,82.8 193.6,77.9 194.4,76.4 195.1,78.4 195.9,81.9 196.7,84.3 197.4,86.4 198.2,88.1 199.0,90.6 199.7,94.0 200.5,97.6 201.3,100.9 202.0,103.9 202.8,106.9 203.6,109.3 204.3,110.7 205.1,112.5 205.9,112.2 206.7,111.9 207.4,111.9 208.2,112.3 209.0,111.5 209.7,111.3 210.5,110.3 211.3,110.3 212.0,110.3 212.8,110.1 213.6,109.5 214.3,109.2 215.1,108.1 215.9,108.5 216.6,108.7 217.4,107.5 218.2,107.4 219.0,108.4 219.7,109.0 220.5,109.8 221.3,110.0 222.0,109.9 222.8,110.3 223.6,111.6 224.3,111.7 225.1,111.3 225.9,111.9 226.6,112.6 227.4,112.7 228.2,113.0 228.9,113.1 229.7,112.9 230.5,112.3 231.2,112.4 232.0,112.4 232.8,111.3 233.6,110.5 234.3,108.8 235.1,105.8 235.9,103.1 236.6,101.8 237.4,100.9 238.2,99.9 238.9,94.2 239.7,84.8 240.5,74.0 241.2,63.5 242.0,58.5 242.8,63.2 243.5,74.1 244.3,86.6 245.1,95.9 245.9,103.2 246.6,107.3 247.4,110.1 248.2,111.1 248.9,112.1 249.7,113.1 250.5,113.1 251.2,112.6 252.0,112.8 252.8,113.1 253.5,112.5 254.3,113.4 255.1,113.4 255.8,113.7 256.6,113.9 257.4,113.7 258.2,114.0 258.9,113.8 259.7,113.2 260.5,113.4 261.2,113.4 262.0,113.8 262.8,114.3 263.5,113.2 264.3,113.4 265.1,113.2 265.8,113.5 266.6,113.8 267.4,114.3 268.1,113.1 268.9,113.4 269.7,114.0 270.5,113.4 271.2,113.7 272.0,113.8 272.8,114.2 273.5,113.9 274.3,112.7 275.1,112.8 275.8,113.3 276.6,113.3" fill="none" stroke="#a8322e" stroke-width="1.25" stroke-linejoin="round"/><rect x="46" y="9.5" width="230.60000000000002" height="196.3" fill="none" stroke="#2a2a2e" stroke-width="1.5"/><line x1="46.0" y1="205.8" x2="46.0" y2="208.4" stroke="#3a3a3a" stroke-width="1.1"/><line x1="65.2" y1="205.8" x2="65.2" y2="208.4" stroke="#3a3a3a" stroke-width="1.1"/><line x1="84.4" y1="205.8" x2="84.4" y2="208.4" stroke="#3a3a3a" stroke-width="1.1"/><line x1="103.7" y1="205.8" x2="103.7" y2="208.4" stroke="#3a3a3a" stroke-width="1.1"/><line x1="122.9" y1="205.8" x2="122.9" y2="208.4" stroke="#3a3a3a" stroke-width="1.1"/><line x1="142.1" y1="205.8" x2="142.1" y2="208.4" stroke="#3a3a3a" stroke-width="1.1"/><line x1="161.3" y1="205.8" x2="161.3" y2="208.4" stroke="#3a3a3a" stroke-width="1.1"/><line x1="180.5" y1="205.8" x2="180.5" y2="208.4" stroke="#3a3a3a" stroke-width="1.1"/><line x1="199.7" y1="205.8" x2="199.7" y2="208.4" stroke="#3a3a3a" stroke-width="1.1"/><line x1="219.0" y1="205.8" x2="219.0" y2="208.4" stroke="#3a3a3a" stroke-width="1.1"/><line x1="238.2" y1="205.8" x2="238.2" y2="208.4" stroke="#3a3a3a" stroke-width="1.1"/><line x1="257.4" y1="205.8" x2="257.4" y2="208.4" stroke="#3a3a3a" stroke-width="1.1"/><line x1="276.6" y1="205.8" x2="276.6" y2="208.4" stroke="#3a3a3a" stroke-width="1.1"/><text x="46.0" y="219.60000000000002" font-size="8" font-weight="bold" text-anchor="middle" fill="#000">600</text><text x="84.4" y="219.60000000000002" font-size="8" font-weight="bold" text-anchor="middle" fill="#000">800</text><text x="122.9" y="219.60000000000002" font-size="8" font-weight="bold" text-anchor="middle" fill="#000">1000</text><text x="161.3" y="219.60000000000002" font-size="8" font-weight="bold" text-anchor="middle" fill="#000">1200</text><text x="199.7" y="219.60000000000002" font-size="8" font-weight="bold" text-anchor="middle" fill="#000">1400</text><text x="238.2" y="219.60000000000002" font-size="8" font-weight="bold" text-anchor="middle" fill="#000">1600</text><text x="276.6" y="219.60000000000002" font-size="8" font-weight="bold" text-anchor="middle" fill="#000">1800</text><polyline points="328.0,201.2 328.8,201.4 329.5,201.4 330.3,201.4 331.1,200.7 331.8,201.8 332.6,202.4 333.4,202.6 334.1,202.6 334.9,202.7 335.7,203.4 336.4,204.0 337.2,204.1 338.0,203.9 338.7,204.3 339.5,205.2 340.3,204.3 341.0,204.8 341.8,204.2 342.5,204.1 343.3,205.3 344.1,204.4 344.8,204.3 345.6,203.9 346.4,204.5 347.1,204.0 347.9,204.1 348.7,204.4 349.4,204.3 350.2,205.1 351.0,204.4 351.7,203.9 352.5,204.0 353.3,203.5 354.0,203.2 354.8,202.7 355.6,202.7 356.3,202.9 357.1,202.1 357.9,201.9 358.6,201.4 359.4,201.0 360.2,201.5 360.9,200.5 361.7,200.0 362.5,199.7 363.2,199.3 364.0,199.7 364.8,199.9 365.5,199.0 366.3,199.6 367.0,200.0 367.8,200.0 368.6,200.5 369.3,200.7 370.1,201.7 370.9,202.0 371.6,202.3 372.4,202.2 373.2,202.5 373.9,203.7 374.7,203.4 375.5,203.9 376.2,203.2 377.0,203.8 377.8,204.6 378.5,204.5 379.3,204.5 380.1,204.2 380.8,204.6 381.6,205.0 382.4,204.8 383.1,204.8 383.9,204.6 384.7,204.6 385.4,205.4 386.2,204.3 387.0,204.2 387.7,203.6 388.5,204.3 389.3,203.7 390.0,203.9 390.8,203.3 391.6,204.0 392.3,204.0 393.1,203.5 393.8,203.1 394.6,202.8 395.4,202.4 396.1,202.6 396.9,201.9 397.7,201.5 398.4,201.3 399.2,201.4 400.0,200.6 400.7,201.4 401.5,201.4 402.3,201.3 403.0,201.3 403.8,201.3 404.6,201.5 405.3,201.7 406.1,201.6 406.9,200.7 407.6,202.0 408.4,202.2 409.2,202.4 409.9,203.3 410.7,203.6 411.5,203.2 412.2,203.7 413.0,203.6 413.8,203.2 414.5,203.8 415.3,203.9 416.1,204.1 416.8,203.5 417.6,203.5 418.3,203.8 419.1,204.5 419.9,204.9 420.6,204.7 421.4,204.7 422.2,204.2 422.9,204.5 423.7,204.6 424.5,204.9 425.2,204.2 426.0,204.4 426.8,204.9 427.5,205.0 428.3,205.0 429.1,205.0 429.8,204.7 430.6,204.1 431.4,204.4 432.1,204.2 432.9,204.8 433.7,204.3 434.4,204.7 435.2,204.1 436.0,203.0 436.7,203.1 437.5,202.6 438.3,202.6 439.0,202.7 439.8,202.8 440.6,203.3 441.3,203.9 442.1,204.3 442.9,204.3 443.6,204.3 444.4,204.2 445.1,205.1 445.9,204.8 446.7,204.0 447.4,204.7 448.2,204.4 449.0,204.4 449.7,203.5 450.5,203.6 451.3,204.0 452.0,204.6 452.8,205.1 453.6,204.3 454.3,204.2 455.1,203.8 455.9,204.0 456.6,202.9 457.4,202.7 458.2,200.9 458.9,199.7 459.7,200.0 460.5,198.6 461.2,199.2 462.0,199.9 462.8,200.8 463.5,201.5 464.3,202.3 465.1,202.9 465.8,203.2 466.6,203.2 467.4,203.7 468.1,204.4 468.9,204.3 469.6,204.6 470.4,204.3 471.2,204.3 471.9,205.0 472.7,204.3 473.5,203.9 474.2,204.6 475.0,204.7 475.8,204.5 476.5,204.0 477.3,204.0 478.1,204.5 478.8,204.7 479.6,204.4 480.4,204.9 481.1,204.3 481.9,203.9 482.7,204.6 483.4,203.9 484.2,204.9 485.0,205.2 485.7,204.4 486.5,203.9 487.3,203.5 488.0,204.1 488.8,204.0 489.6,204.7 490.3,204.1 491.1,204.5 491.9,204.0 492.6,203.9 493.4,204.0 494.1,204.1 494.9,204.3 495.7,204.6 496.4,204.2 497.2,204.5 498.0,204.2 498.7,204.5 499.5,204.1 500.3,204.2 501.0,204.9 501.8,205.0 502.6,204.1 503.3,203.6 504.1,203.6 504.9,204.7 505.6,204.0 506.4,204.3 507.2,204.5 507.9,204.3 508.7,203.8 509.5,203.6 510.2,203.7 511.0,204.7 511.8,204.3 512.5,204.1 513.3,204.2 514.1,205.4 514.8,204.5 515.6,204.2 516.4,204.0 517.1,203.7 517.9,204.6 518.7,204.6 519.4,203.4 520.2,203.5 520.9,202.3 521.7,202.6 522.5,201.3 523.2,200.9 524.0,201.1 524.8,202.7 525.5,202.3 526.3,202.2 527.1,203.4 527.8,204.1 528.6,203.7 529.4,202.9 530.1,203.7 530.9,203.5 531.7,204.4 532.4,203.8 533.2,203.8 534.0,204.3 534.7,202.9 535.5,203.0 536.3,203.5 537.0,203.5 537.8,203.8 538.6,203.8 539.3,203.5 540.1,203.7 540.9,203.9 541.6,203.2 542.4,204.2 543.2,204.3 543.9,203.8 544.7,204.0 545.4,203.7 546.2,203.9 547.0,204.3 547.7,204.9 548.5,204.2 549.3,204.0 550.0,203.9 550.8,204.1 551.6,203.8 552.3,204.2 553.1,204.2 553.9,204.1 554.6,203.0 555.4,204.1 556.2,203.8 556.9,204.8 557.7,204.8" fill="none" stroke="#6cb4ec" stroke-width="1.25" stroke-linejoin="round"/><polyline points="328.0,190.0 328.8,190.5 329.5,190.6 330.3,191.0 331.1,190.6 331.8,191.1 332.6,191.2 333.4,190.9 334.1,191.7 334.9,191.4 335.7,191.1 336.4,191.5 337.2,191.6 338.0,191.9 338.7,192.7 339.5,192.6 340.3,193.5 341.0,193.0 341.8,193.3 342.5,193.2 343.3,192.4 344.1,193.0 344.8,193.3 345.6,193.7 346.4,192.9 347.1,193.5 347.9,193.8 348.7,193.0 349.4,193.1 350.2,193.5 351.0,192.3 351.7,192.7 352.5,191.7 353.3,192.1 354.0,192.7 354.8,192.0 355.6,192.0 356.3,190.9 357.1,190.8 357.9,190.7 358.6,191.0 359.4,190.5 360.2,190.6 360.9,190.1 361.7,189.5 362.5,189.2 363.2,188.8 364.0,187.9 364.8,187.4 365.5,186.2 366.3,186.1 367.0,186.6 367.8,186.9 368.6,188.0 369.3,189.0 370.1,189.2 370.9,190.9 371.6,190.9 372.4,191.5 373.2,190.3 373.9,191.8 374.7,191.7 375.5,191.6 376.2,192.0 377.0,192.7 377.8,191.9 378.5,192.8 379.3,192.2 380.1,193.0 380.8,193.0 381.6,193.4 382.4,193.4 383.1,192.7 383.9,192.7 384.7,193.0 385.4,192.8 386.2,192.8 387.0,192.3 387.7,192.8 388.5,193.7 389.3,193.3 390.0,192.8 390.8,191.9 391.6,191.9 392.3,192.3 393.1,191.8 393.8,191.8 394.6,191.2 395.4,190.8 396.1,190.8 396.9,190.3 397.7,190.0 398.4,190.1 399.2,189.8 400.0,188.9 400.7,189.6 401.5,190.2 402.3,189.9 403.0,189.5 403.8,189.1 404.6,189.1 405.3,189.5 406.1,190.2 406.9,190.2 407.6,190.2 408.4,190.0 409.2,190.5 409.9,190.5 410.7,191.7 411.5,191.7 412.2,191.6 413.0,192.5 413.8,192.9 414.5,192.4 415.3,191.8 416.1,192.7 416.8,192.4 417.6,192.8 418.3,192.3 419.1,192.4 419.9,192.5 420.6,192.3 421.4,192.2 422.2,193.0 422.9,192.7 423.7,193.3 424.5,193.3 425.2,193.1 426.0,193.2 426.8,192.8 427.5,192.8 428.3,192.9 429.1,192.9 429.8,192.5 430.6,193.0 431.4,192.9 432.1,193.3 432.9,192.3 433.7,192.9 434.4,191.7 435.2,190.9 436.0,189.6 436.7,187.6 437.5,186.9 438.3,187.3 439.0,188.2 439.8,188.8 440.6,190.5 441.3,191.5 442.1,191.7 442.9,192.7 443.6,192.6 444.4,192.1 445.1,192.8 445.9,192.8 446.7,192.6 447.4,192.2 448.2,192.3 449.0,193.1 449.7,192.6 450.5,192.2 451.3,192.1 452.0,192.9 452.8,193.3 453.6,192.3 454.3,192.0 455.1,192.3 455.9,192.2 456.6,191.2 457.4,190.7 458.2,190.5 458.9,189.0 459.7,188.2 460.5,187.9 461.2,188.1 462.0,188.3 462.8,188.5 463.5,189.6 464.3,190.8 465.1,190.8 465.8,191.2 466.6,191.5 467.4,192.8 468.1,192.4 468.9,192.0 469.6,192.7 470.4,192.7 471.2,191.8 471.9,191.3 472.7,190.4 473.5,189.5 474.2,188.4 475.0,187.9 475.8,187.8 476.5,188.7 477.3,190.0 478.1,190.9 478.8,191.4 479.6,191.3 480.4,192.2 481.1,192.4 481.9,192.5 482.7,193.3 483.4,193.0 484.2,192.7 485.0,192.9 485.7,192.1 486.5,192.4 487.3,192.5 488.0,192.8 488.8,192.9 489.6,193.2 490.3,192.9 491.1,192.6 491.9,192.7 492.6,192.1 493.4,192.2 494.1,192.4 494.9,193.0 495.7,192.9 496.4,192.3 497.2,192.9 498.0,193.0 498.7,192.9 499.5,193.2 500.3,192.9 501.0,193.2 501.8,193.0 502.6,192.5 503.3,192.7 504.1,193.0 504.9,193.6 505.6,192.8 506.4,192.7 507.2,192.1 507.9,192.2 508.7,191.7 509.5,192.3 510.2,192.8 511.0,192.2 511.8,192.8 512.5,192.7 513.3,192.4 514.1,192.5 514.8,191.9 515.6,192.3 516.4,192.4 517.1,191.7 517.9,191.9 518.7,191.4 519.4,190.7 520.2,189.7 520.9,188.5 521.7,186.6 522.5,185.5 523.2,185.2 524.0,185.5 524.8,186.6 525.5,188.6 526.3,189.5 527.1,190.7 527.8,191.3 528.6,192.2 529.4,192.4 530.1,192.5 530.9,191.6 531.7,192.2 532.4,192.5 533.2,192.0 534.0,193.0 534.7,192.9 535.5,193.5 536.3,193.0 537.0,192.0 537.8,192.9 538.6,192.6 539.3,192.7 540.1,193.0 540.9,192.2 541.6,192.8 542.4,192.2 543.2,192.9 543.9,192.9 544.7,192.7 545.4,192.6 546.2,192.8 547.0,192.6 547.7,191.8 548.5,192.6 549.3,192.8 550.0,192.9 550.8,192.7 551.6,192.9 552.3,193.1 553.1,193.1 553.9,192.1 554.6,192.3 555.4,192.8 556.2,192.7 556.9,193.1 557.7,192.8" fill="none" stroke="#ef6f35" stroke-width="1.25" stroke-linejoin="round"/><polyline points="328.0,176.3 328.8,176.2 329.5,176.2 330.3,175.9 331.1,176.7 331.8,176.7 332.6,177.1 333.4,177.1 334.1,177.8 334.9,177.8 335.7,178.1 336.4,178.6 337.2,178.5 338.0,178.6 338.7,178.8 339.5,179.0 340.3,179.4 341.0,179.5 341.8,179.5 342.5,179.8 343.3,179.8 344.1,179.3 344.8,180.1 345.6,179.2 346.4,180.2 347.1,179.3 347.9,179.0 348.7,179.1 349.4,179.7 350.2,179.1 351.0,179.5 351.7,179.6 352.5,178.9 353.3,178.7 354.0,178.8 354.8,178.6 355.6,178.1 356.3,177.3 357.1,177.3 357.9,177.0 358.6,177.1 359.4,177.0 360.2,176.5 360.9,176.1 361.7,175.9 362.5,175.9 363.2,175.6 364.0,175.1 364.8,174.7 365.5,174.3 366.3,173.6 367.0,174.2 367.8,174.1 368.6,175.3 369.3,175.9 370.1,175.9 370.9,177.4 371.6,178.4 372.4,178.6 373.2,177.8 373.9,177.3 374.7,178.5 375.5,178.8 376.2,178.7 377.0,178.7 377.8,178.4 378.5,179.0 379.3,178.5 380.1,178.6 380.8,179.1 381.6,179.9 382.4,180.0 383.1,180.1 383.9,180.3 384.7,180.1 385.4,179.6 386.2,179.6 387.0,179.6 387.7,179.2 388.5,179.2 389.3,179.1 390.0,178.5 390.8,178.2 391.6,178.5 392.3,178.7 393.1,178.8 393.8,178.8 394.6,178.3 395.4,177.9 396.1,177.3 396.9,176.8 397.7,175.8 398.4,176.3 399.2,176.7 400.0,176.6 400.7,177.2 401.5,177.2 402.3,176.9 403.0,176.5 403.8,177.1 404.6,177.2 405.3,176.3 406.1,176.8 406.9,177.3 407.6,176.9 408.4,177.9 409.2,177.6 409.9,178.0 410.7,177.9 411.5,178.2 412.2,178.4 413.0,179.1 413.8,178.8 414.5,179.1 415.3,179.4 416.1,179.1 416.8,179.4 417.6,178.8 418.3,178.7 419.1,179.1 419.9,178.7 420.6,178.9 421.4,179.3 422.2,179.2 422.9,179.3 423.7,179.2 424.5,179.7 425.2,179.6 426.0,178.7 426.8,179.6 427.5,180.2 428.3,180.1 429.1,180.2 429.8,179.5 430.6,180.1 431.4,179.9 432.1,179.5 432.9,179.6 433.7,179.0 434.4,177.9 435.2,177.1 436.0,176.2 436.7,174.8 437.5,174.1 438.3,173.5 439.0,173.6 439.8,175.6 440.6,176.8 441.3,177.9 442.1,177.8 442.9,178.7 443.6,179.6 444.4,179.3 445.1,179.0 445.9,180.2 446.7,179.7 447.4,179.8 448.2,179.6 449.0,180.0 449.7,179.8 450.5,179.3 451.3,179.3 452.0,179.4 452.8,180.0 453.6,179.5 454.3,179.2 455.1,179.3 455.9,179.1 456.6,178.0 457.4,177.4 458.2,176.9 458.9,175.8 459.7,175.4 460.5,175.0 461.2,174.3 462.0,175.3 462.8,175.8 463.5,176.4 464.3,176.4 465.1,177.8 465.8,177.6 466.6,178.5 467.4,179.5 468.1,178.9 468.9,178.9 469.6,178.8 470.4,179.0 471.2,178.4 471.9,177.5 472.7,176.9 473.5,174.8 474.2,173.9 475.0,172.7 475.8,173.3 476.5,174.7 477.3,175.4 478.1,176.9 478.8,178.5 479.6,178.2 480.4,178.9 481.1,179.1 481.9,180.0 482.7,179.6 483.4,179.3 484.2,179.8 485.0,179.5 485.7,179.2 486.5,179.5 487.3,179.0 488.0,179.8 488.8,180.0 489.6,179.5 490.3,179.1 491.1,179.3 491.9,180.1 492.6,180.3 493.4,179.7 494.1,179.7 494.9,179.6 495.7,179.9 496.4,179.7 497.2,179.4 498.0,180.0 498.7,180.4 499.5,179.6 500.3,180.4 501.0,180.0 501.8,179.7 502.6,179.7 503.3,180.0 504.1,179.4 504.9,179.4 505.6,180.4 506.4,179.6 507.2,178.6 507.9,178.7 508.7,179.9 509.5,178.9 510.2,179.1 511.0,179.3 511.8,179.3 512.5,179.3 513.3,178.4 514.1,179.7 514.8,179.0 515.6,179.6 516.4,179.9 517.1,179.2 517.9,178.7 518.7,178.8 519.4,178.5 520.2,177.4 520.9,175.1 521.7,172.8 522.5,170.5 523.2,170.6 524.0,171.6 524.8,173.2 525.5,174.7 526.3,176.1 527.1,177.2 527.8,178.2 528.6,179.3 529.4,179.3 530.1,179.2 530.9,179.2 531.7,179.0 532.4,179.2 533.2,179.0 534.0,179.8 534.7,179.6 535.5,179.5 536.3,179.9 537.0,179.9 537.8,180.1 538.6,179.4 539.3,179.1 540.1,179.9 540.9,179.7 541.6,179.5 542.4,179.9 543.2,179.7 543.9,179.5 544.7,179.0 545.4,179.1 546.2,179.4 547.0,179.5 547.7,179.6 548.5,179.2 549.3,179.5 550.0,179.1 550.8,179.2 551.6,179.1 552.3,179.9 553.1,179.4 553.9,179.8 554.6,179.0 555.4,179.5 556.2,180.1 556.9,179.6 557.7,180.2" fill="none" stroke="#a6b2b2" stroke-width="1.25" stroke-linejoin="round"/><polyline points="328.0,162.9 328.8,162.8 329.5,162.7 330.3,163.5 331.1,164.2 331.8,163.9 332.6,164.1 333.4,163.7 334.1,164.4 334.9,164.7 335.7,165.6 336.4,166.6 337.2,166.0 338.0,165.6 338.7,165.8 339.5,165.8 340.3,165.8 341.0,166.5 341.8,166.5 342.5,166.7 343.3,166.1 344.1,166.4 344.8,166.4 345.6,167.1 346.4,166.9 347.1,166.7 347.9,166.6 348.7,166.7 349.4,166.4 350.2,166.0 351.0,165.9 351.7,166.2 352.5,166.1 353.3,165.3 354.0,164.9 354.8,165.5 355.6,165.4 356.3,165.5 357.1,165.4 357.9,164.8 358.6,164.6 359.4,164.4 360.2,163.8 360.9,163.2 361.7,163.7 362.5,163.3 363.2,162.4 364.0,162.0 364.8,161.1 365.5,160.7 366.3,160.6 367.0,161.1 367.8,161.4 368.6,162.5 369.3,162.7 370.1,163.1 370.9,163.6 371.6,164.5 372.4,165.1 373.2,165.2 373.9,165.5 374.7,165.9 375.5,165.9 376.2,165.5 377.0,165.8 377.8,166.2 378.5,166.7 379.3,166.9 380.1,166.6 380.8,167.0 381.6,166.7 382.4,166.9 383.1,167.0 383.9,167.5 384.7,166.5 385.4,166.2 386.2,166.4 387.0,167.1 387.7,166.4 388.5,166.2 389.3,166.5 390.0,167.0 390.8,166.1 391.6,166.2 392.3,166.4 393.1,166.1 393.8,165.5 394.6,165.6 395.4,165.0 396.1,164.2 396.9,164.1 397.7,164.4 398.4,164.1 399.2,163.7 400.0,163.0 400.7,162.8 401.5,163.9 402.3,163.5 403.0,163.4 403.8,163.5 404.6,164.0 405.3,163.1 406.1,163.6 406.9,164.1 407.6,163.9 408.4,164.2 409.2,164.9 409.9,164.4 410.7,164.4 411.5,165.2 412.2,164.8 413.0,165.4 413.8,165.2 414.5,165.2 415.3,165.8 416.1,166.7 416.8,166.6 417.6,166.5 418.3,166.3 419.1,166.3 419.9,166.1 420.6,166.1 421.4,166.2 422.2,166.5 422.9,166.1 423.7,166.7 424.5,167.2 425.2,166.9 426.0,167.1 426.8,166.6 427.5,165.8 428.3,165.9 429.1,165.9 429.8,165.7 430.6,165.6 431.4,166.0 432.1,165.8 432.9,165.8 433.7,165.4 434.4,163.9 435.2,163.7 436.0,162.0 436.7,160.8 437.5,159.4 438.3,159.3 439.0,159.7 439.8,160.6 440.6,161.9 441.3,163.3 442.1,164.8 442.9,165.8 443.6,166.3 444.4,166.0 445.1,166.5 445.9,166.1 446.7,166.0 447.4,166.1 448.2,166.2 449.0,165.9 449.7,165.6 450.5,165.9 451.3,166.3 452.0,165.9 452.8,165.7 453.6,166.1 454.3,165.3 455.1,165.0 455.9,165.1 456.6,164.2 457.4,163.6 458.2,162.6 458.9,162.3 459.7,161.3 460.5,161.6 461.2,161.3 462.0,161.7 462.8,162.2 463.5,162.9 464.3,163.6 465.1,164.9 465.8,165.5 466.6,165.3 467.4,165.1 468.1,165.9 468.9,166.2 469.6,165.2 470.4,165.3 471.2,164.7 471.9,163.4 472.7,162.3 473.5,160.7 474.2,159.7 475.0,158.3 475.8,158.6 476.5,160.0 477.3,161.6 478.1,162.5 478.8,164.2 479.6,164.9 480.4,165.7 481.1,165.6 481.9,166.3 482.7,166.1 483.4,166.3 484.2,166.4 485.0,166.2 485.7,166.1 486.5,166.0 487.3,166.0 488.0,166.4 488.8,166.5 489.6,165.6 490.3,166.2 491.1,166.3 491.9,166.2 492.6,166.4 493.4,165.4 494.1,166.0 494.9,165.7 495.7,166.3 496.4,165.4 497.2,165.9 498.0,165.6 498.7,166.3 499.5,166.5 500.3,166.5 501.0,166.7 501.8,166.5 502.6,166.1 503.3,166.0 504.1,165.5 504.9,166.0 505.6,165.7 506.4,166.8 507.2,166.7 507.9,166.5 508.7,167.2 509.5,166.4 510.2,165.9 511.0,166.0 511.8,165.8 512.5,166.3 513.3,165.8 514.1,166.2 514.8,165.5 515.6,166.4 516.4,166.7 517.1,166.2 517.9,164.9 518.7,165.5 519.4,165.0 520.2,162.5 520.9,159.8 521.7,157.8 522.5,156.1 523.2,155.4 524.0,156.2 524.8,158.3 525.5,161.0 526.3,162.7 527.1,164.3 527.8,165.8 528.6,165.9 529.4,165.3 530.1,165.6 530.9,166.0 531.7,166.3 532.4,166.4 533.2,166.6 534.0,165.9 534.7,165.9 535.5,166.2 536.3,166.4 537.0,165.6 537.8,165.4 538.6,165.8 539.3,166.1 540.1,166.1 540.9,166.1 541.6,166.0 542.4,166.1 543.2,165.8 543.9,165.9 544.7,165.8 545.4,166.4 546.2,166.5 547.0,166.6 547.7,166.0 548.5,166.5 549.3,165.9 550.0,166.3 550.8,165.7 551.6,166.3 552.3,165.7 553.1,165.6 553.9,166.1 554.6,166.1 555.4,165.9 556.2,165.8 556.9,165.9 557.7,166.2" fill="none" stroke="#f5b233" stroke-width="1.25" stroke-linejoin="round"/><polyline points="328.0,150.5 328.8,150.3 329.5,149.9 330.3,150.2 331.1,150.9 331.8,150.8 332.6,150.5 333.4,151.2 334.1,150.8 334.9,152.1 335.7,152.5 336.4,152.0 337.2,153.4 338.0,153.4 338.7,152.6 339.5,152.8 340.3,152.6 341.0,153.0 341.8,153.6 342.5,153.4 343.3,154.5 344.1,155.1 344.8,154.1 345.6,154.1 346.4,153.1 347.1,153.7 347.9,153.6 348.7,153.6 349.4,153.5 350.2,153.7 351.0,154.2 351.7,153.6 352.5,153.2 353.3,152.7 354.0,152.7 354.8,153.6 355.6,152.6 356.3,151.8 357.1,150.9 357.9,150.8 358.6,151.2 359.4,151.7 360.2,151.7 360.9,151.1 361.7,150.6 362.5,150.3 363.2,149.1 364.0,148.5 364.8,147.7 365.5,146.3 366.3,146.6 367.0,146.5 367.8,147.9 368.6,148.2 369.3,149.3 370.1,150.6 370.9,151.1 371.6,151.4 372.4,152.2 373.2,152.4 373.9,152.5 374.7,153.0 375.5,153.4 376.2,153.9 377.0,153.0 377.8,153.1 378.5,153.1 379.3,153.6 380.1,153.6 380.8,152.8 381.6,153.5 382.4,152.6 383.1,152.9 383.9,153.0 384.7,153.0 385.4,153.2 386.2,152.5 387.0,152.5 387.7,152.0 388.5,151.0 389.3,151.7 390.0,152.3 390.8,152.0 391.6,152.9 392.3,152.9 393.1,152.1 393.8,151.9 394.6,151.6 395.4,151.5 396.1,152.2 396.9,151.7 397.7,150.9 398.4,151.6 399.2,150.8 400.0,150.7 400.7,150.5 401.5,150.8 402.3,150.6 403.0,150.7 403.8,150.9 404.6,151.1 405.3,151.5 406.1,151.0 406.9,151.0 407.6,151.4 408.4,152.1 409.2,151.7 409.9,152.1 410.7,152.2 411.5,151.9 412.2,152.6 413.0,152.8 413.8,152.7 414.5,152.8 415.3,152.7 416.1,152.8 416.8,153.3 417.6,152.9 418.3,153.0 419.1,153.5 419.9,153.5 420.6,153.5 421.4,153.0 422.2,153.2 422.9,153.5 423.7,153.6 424.5,152.7 425.2,153.4 426.0,153.9 426.8,153.8 427.5,153.8 428.3,153.3 429.1,153.0 429.8,153.5 430.6,153.3 431.4,153.2 432.1,153.4 432.9,153.3 433.7,151.4 434.4,150.9 435.2,149.5 436.0,147.9 436.7,145.6 437.5,144.3 438.3,143.6 439.0,143.1 439.8,146.4 440.6,148.2 441.3,150.3 442.1,151.6 442.9,152.1 443.6,152.0 444.4,151.9 445.1,151.7 445.9,151.2 446.7,150.5 447.4,150.8 448.2,151.2 449.0,152.3 449.7,152.7 450.5,152.7 451.3,152.9 452.0,152.9 452.8,152.3 453.6,152.4 454.3,152.1 455.1,152.6 455.9,151.9 456.6,150.8 457.4,150.9 458.2,149.3 458.9,148.3 459.7,147.5 460.5,147.3 461.2,147.3 462.0,148.1 462.8,148.8 463.5,149.2 464.3,150.2 465.1,151.3 465.8,151.9 466.6,151.9 467.4,152.2 468.1,152.5 468.9,152.4 469.6,151.9 470.4,151.6 471.2,151.3 471.9,149.8 472.7,148.4 473.5,145.8 474.2,144.1 475.0,142.9 475.8,141.8 476.5,143.2 477.3,145.1 478.1,146.9 478.8,148.2 479.6,149.6 480.4,149.2 481.1,150.1 481.9,150.8 482.7,151.8 483.4,151.6 484.2,151.5 485.0,152.3 485.7,152.4 486.5,152.7 487.3,153.0 488.0,153.0 488.8,153.0 489.6,153.1 490.3,153.3 491.1,153.3 491.9,153.6 492.6,154.1 493.4,153.0 494.1,152.9 494.9,153.3 495.7,152.8 496.4,153.1 497.2,153.4 498.0,153.6 498.7,153.5 499.5,153.6 500.3,152.4 501.0,152.7 501.8,152.8 502.6,153.3 503.3,152.7 504.1,152.2 504.9,152.9 505.6,152.5 506.4,153.3 507.2,152.7 507.9,153.2 508.7,153.0 509.5,153.3 510.2,153.0 511.0,152.3 511.8,153.0 512.5,153.1 513.3,153.4 514.1,152.2 514.8,151.8 515.6,151.8 516.4,151.4 517.1,151.6 517.9,151.5 518.7,151.2 519.4,150.9 520.2,147.5 520.9,145.0 521.7,141.7 522.5,138.4 523.2,137.3 524.0,138.7 524.8,142.1 525.5,146.0 526.3,148.3 527.1,150.2 527.8,151.7 528.6,152.0 529.4,153.1 530.1,152.8 530.9,152.9 531.7,153.5 532.4,152.6 533.2,152.4 534.0,152.6 534.7,153.0 535.5,153.3 536.3,152.7 537.0,153.4 537.8,153.4 538.6,153.8 539.3,154.1 540.1,153.0 540.9,153.1 541.6,152.9 542.4,152.8 543.2,152.5 543.9,153.0 544.7,153.0 545.4,152.4 546.2,152.5 547.0,152.6 547.7,152.9 548.5,153.4 549.3,153.3 550.0,153.0 550.8,153.1 551.6,153.3 552.3,152.8 553.1,152.8 553.9,152.8 554.6,153.4 555.4,153.1 556.2,153.6 556.9,153.3 557.7,153.4" fill="none" stroke="#4c82dc" stroke-width="1.25" stroke-linejoin="round"/><polyline points="328.0,138.0 328.8,138.0 329.5,137.9 330.3,138.1 331.1,138.1 331.8,137.4 332.6,137.7 333.4,138.5 334.1,138.4 334.9,137.7 335.7,138.4 336.4,138.6 337.2,139.0 338.0,139.8 338.7,139.9 339.5,139.7 340.3,139.6 341.0,140.1 341.8,140.3 342.5,140.5 343.3,140.7 344.1,141.4 344.8,140.3 345.6,140.3 346.4,140.9 347.1,140.9 347.9,140.1 348.7,140.5 349.4,140.7 350.2,141.1 351.0,140.3 351.7,140.4 352.5,140.2 353.3,139.8 354.0,140.0 354.8,139.5 355.6,139.1 356.3,139.2 357.1,138.1 357.9,138.5 358.6,138.4 359.4,138.6 360.2,137.7 360.9,137.6 361.7,137.6 362.5,137.2 363.2,135.8 364.0,135.2 364.8,133.9 365.5,132.9 366.3,132.9 367.0,132.3 367.8,133.6 368.6,135.6 369.3,136.3 370.1,136.9 370.9,137.7 371.6,138.5 372.4,138.4 373.2,139.2 373.9,138.9 374.7,139.4 375.5,139.5 376.2,139.8 377.0,140.1 377.8,140.7 378.5,140.2 379.3,140.4 380.1,140.3 380.8,141.5 381.6,141.1 382.4,140.2 383.1,140.2 383.9,140.7 384.7,140.3 385.4,139.6 386.2,139.4 387.0,138.6 387.7,137.7 388.5,137.0 389.3,137.3 390.0,138.6 390.8,139.4 391.6,139.3 392.3,139.2 393.1,139.0 393.8,139.2 394.6,138.8 395.4,138.1 396.1,138.1 396.9,137.9 397.7,137.5 398.4,137.6 399.2,137.5 400.0,137.9 400.7,137.5 401.5,137.1 402.3,137.0 403.0,136.6 403.8,137.1 404.6,137.1 405.3,137.5 406.1,137.9 406.9,138.6 407.6,138.4 408.4,138.7 409.2,138.5 409.9,138.4 410.7,138.9 411.5,138.6 412.2,139.3 413.0,139.4 413.8,139.2 414.5,139.8 415.3,139.8 416.1,140.4 416.8,139.9 417.6,140.3 418.3,140.5 419.1,140.2 419.9,140.9 420.6,140.8 421.4,140.5 422.2,140.5 422.9,140.5 423.7,139.9 424.5,139.8 425.2,139.6 426.0,140.1 426.8,141.0 427.5,140.1 428.3,140.8 429.1,140.9 429.8,140.4 430.6,139.6 431.4,140.0 432.1,139.6 432.9,138.6 433.7,138.2 434.4,136.6 435.2,134.1 436.0,131.2 436.7,127.5 437.5,126.3 438.3,125.6 439.0,126.7 439.8,129.9 440.6,133.0 441.3,135.1 442.1,136.9 442.9,137.0 443.6,138.3 444.4,138.3 445.1,137.8 445.9,137.9 446.7,137.4 447.4,138.2 448.2,138.3 449.0,138.3 449.7,139.1 450.5,139.6 451.3,139.7 452.0,140.1 452.8,139.4 453.6,140.3 454.3,140.1 455.1,140.1 455.9,138.1 456.6,138.3 457.4,137.5 458.2,136.0 458.9,134.3 459.7,133.9 460.5,133.3 461.2,133.4 462.0,133.8 462.8,134.7 463.5,135.3 464.3,136.4 465.1,137.9 465.8,138.6 466.6,139.0 467.4,138.6 468.1,138.8 468.9,139.3 469.6,139.0 470.4,138.1 471.2,137.8 471.9,135.5 472.7,133.6 473.5,130.9 474.2,127.1 475.0,124.9 475.8,124.8 476.5,126.9 477.3,129.1 478.1,131.0 478.8,133.4 479.6,133.7 480.4,135.0 481.1,136.5 481.9,136.9 482.7,137.1 483.4,137.7 484.2,138.8 485.0,139.1 485.7,140.1 486.5,140.1 487.3,140.3 488.0,139.7 488.8,139.6 489.6,140.0 490.3,140.6 491.1,140.2 491.9,140.7 492.6,140.3 493.4,140.3 494.1,140.0 494.9,140.1 495.7,139.9 496.4,139.9 497.2,140.4 498.0,139.0 498.7,139.6 499.5,139.8 500.3,139.9 501.0,140.2 501.8,139.6 502.6,140.3 503.3,139.4 504.1,140.0 504.9,139.6 505.6,139.8 506.4,139.9 507.2,139.7 507.9,140.2 508.7,140.1 509.5,139.9 510.2,140.0 511.0,140.2 511.8,140.1 512.5,140.3 513.3,140.2 514.1,139.7 514.8,139.3 515.6,138.8 516.4,138.0 517.1,137.0 517.9,137.1 518.7,136.6 519.4,135.9 520.2,133.4 520.9,130.8 521.7,125.8 522.5,121.6 523.2,120.2 524.0,121.4 524.8,125.2 525.5,129.8 526.3,133.6 527.1,136.6 527.8,137.8 528.6,138.7 529.4,139.4 530.1,139.9 530.9,139.8 531.7,140.0 532.4,140.1 533.2,139.9 534.0,139.2 534.7,139.4 535.5,139.8 536.3,139.6 537.0,139.6 537.8,140.4 538.6,140.1 539.3,140.2 540.1,139.8 540.9,140.0 541.6,139.6 542.4,139.8 543.2,140.1 543.9,139.5 544.7,139.8 545.4,139.9 546.2,140.1 547.0,139.6 547.7,139.6 548.5,139.7 549.3,139.1 550.0,140.2 550.8,140.9 551.6,140.2 552.3,140.6 553.1,140.3 553.9,140.7 554.6,140.0 555.4,140.3 556.2,140.6 556.9,139.7 557.7,139.9" fill="none" stroke="#5fd13b" stroke-width="1.25" stroke-linejoin="round"/><polyline points="328.0,123.7 328.8,123.3 329.5,122.9 330.3,123.4 331.1,123.8 331.8,122.8 332.6,123.6 333.4,124.4 334.1,124.7 334.9,125.3 335.7,124.8 336.4,124.7 337.2,126.0 338.0,127.0 338.7,127.2 339.5,128.0 340.3,127.2 341.0,127.3 341.8,127.8 342.5,127.8 343.3,128.0 344.1,127.8 344.8,127.5 345.6,127.5 346.4,127.2 347.1,127.8 347.9,128.2 348.7,128.3 349.4,128.0 350.2,127.7 351.0,127.3 351.7,126.9 352.5,127.1 353.3,127.0 354.0,126.5 354.8,126.1 355.6,125.5 356.3,124.9 357.1,125.4 357.9,124.8 358.6,124.9 359.4,124.2 360.2,123.5 360.9,123.0 361.7,122.3 362.5,122.5 363.2,121.5 364.0,120.7 364.8,119.0 365.5,117.9 366.3,117.5 367.0,117.6 367.8,118.9 368.6,119.9 369.3,121.9 370.1,123.0 370.9,123.5 371.6,124.2 372.4,125.0 373.2,125.4 373.9,126.1 374.7,125.5 375.5,126.4 376.2,127.0 377.0,127.4 377.8,127.4 378.5,127.2 379.3,127.0 380.1,127.3 380.8,127.2 381.6,127.8 382.4,127.8 383.1,127.6 383.9,127.1 384.7,127.3 385.4,127.4 386.2,126.3 387.0,124.9 387.7,123.9 388.5,123.5 389.3,123.6 390.0,124.2 390.8,124.7 391.6,124.8 392.3,125.8 393.1,125.5 393.8,124.8 394.6,124.5 395.4,124.3 396.1,124.1 396.9,123.4 397.7,122.9 398.4,122.0 399.2,121.8 400.0,121.4 400.7,121.5 401.5,122.4 402.3,122.6 403.0,122.8 403.8,121.9 404.6,122.1 405.3,122.7 406.1,122.6 406.9,122.5 407.6,123.5 408.4,124.1 409.2,123.2 409.9,123.6 410.7,123.5 411.5,124.9 412.2,125.1 413.0,125.2 413.8,125.8 414.5,126.9 415.3,127.4 416.1,127.5 416.8,126.5 417.6,126.1 418.3,126.8 419.1,127.1 419.9,127.6 420.6,127.2 421.4,127.2 422.2,127.8 422.9,127.9 423.7,128.0 424.5,127.2 425.2,126.9 426.0,126.9 426.8,127.4 427.5,127.3 428.3,127.3 429.1,126.8 429.8,126.9 430.6,126.7 431.4,126.7 432.1,126.3 432.9,125.1 433.7,124.5 434.4,122.6 435.2,118.9 436.0,116.0 436.7,112.1 437.5,109.8 438.3,108.3 439.0,110.3 439.8,114.8 440.6,118.0 441.3,121.0 442.1,123.3 442.9,124.6 443.6,125.8 444.4,125.7 445.1,124.5 445.9,123.9 446.7,123.3 447.4,122.9 448.2,124.2 449.0,125.5 449.7,126.4 450.5,126.7 451.3,126.4 452.0,125.4 452.8,126.5 453.6,126.4 454.3,126.2 455.1,125.5 455.9,124.6 456.6,123.7 457.4,122.9 458.2,120.9 458.9,119.3 459.7,118.7 460.5,117.7 461.2,118.1 462.0,119.2 462.8,120.6 463.5,121.4 464.3,122.3 465.1,123.4 465.8,125.5 466.6,125.0 467.4,125.7 468.1,126.4 468.9,125.8 469.6,125.0 470.4,124.5 471.2,123.0 471.9,120.8 472.7,117.9 473.5,114.7 474.2,110.9 475.0,108.9 475.8,108.3 476.5,109.6 477.3,111.7 478.1,114.3 478.8,116.4 479.6,117.2 480.4,118.2 481.1,120.2 481.9,121.4 482.7,122.0 483.4,123.3 484.2,125.0 485.0,126.0 485.7,125.4 486.5,125.9 487.3,126.2 488.0,126.1 488.8,126.6 489.6,126.9 490.3,126.8 491.1,126.5 491.9,127.2 492.6,126.7 493.4,126.5 494.1,126.4 494.9,126.0 495.7,126.6 496.4,126.0 497.2,126.6 498.0,127.2 498.7,126.9 499.5,126.9 500.3,126.6 501.0,126.9 501.8,127.1 502.6,127.0 503.3,126.7 504.1,126.6 504.9,127.4 505.6,127.0 506.4,127.0 507.2,126.7 507.9,127.0 508.7,126.3 509.5,126.4 510.2,125.8 511.0,127.0 511.8,126.4 512.5,125.6 513.3,125.9 514.1,125.2 514.8,125.0 515.6,123.4 516.4,123.3 517.1,121.6 517.9,121.0 518.7,119.8 519.4,119.4 520.2,117.1 520.9,112.8 521.7,108.3 522.5,102.9 523.2,100.9 524.0,102.4 524.8,107.9 525.5,114.0 526.3,118.7 527.1,122.3 527.8,123.6 528.6,125.4 529.4,125.8 530.1,126.0 530.9,125.8 531.7,126.2 532.4,126.4 533.2,126.1 534.0,126.1 534.7,125.6 535.5,126.8 536.3,126.2 537.0,126.1 537.8,126.3 538.6,126.9 539.3,126.7 540.1,126.2 540.9,126.4 541.6,126.4 542.4,126.7 543.2,127.1 543.9,127.2 544.7,127.4 545.4,126.5 546.2,127.2 547.0,127.0 547.7,126.7 548.5,126.5 549.3,126.1 550.0,126.2 550.8,126.2 551.6,125.8 552.3,125.7 553.1,126.7 553.9,127.1 554.6,127.3 555.4,126.7 556.2,126.7 556.9,126.1 557.7,126.7" fill="none" stroke="#3b6dd2" stroke-width="1.25" stroke-linejoin="round"/><polyline points="328.0,109.6 328.8,109.5 329.5,109.8 330.3,109.7 331.1,110.1 331.8,110.1 332.6,110.9 333.4,110.8 334.1,111.1 334.9,111.4 335.7,111.8 336.4,111.7 337.2,112.1 338.0,112.5 338.7,113.6 339.5,113.6 340.3,113.7 341.0,113.3 341.8,113.2 342.5,113.7 343.3,113.8 344.1,113.8 344.8,114.5 345.6,114.8 346.4,114.7 347.1,114.7 347.9,113.4 348.7,113.5 349.4,112.3 350.2,111.2 351.0,110.1 351.7,109.5 352.5,110.1 353.3,109.9 354.0,109.9 354.8,110.1 355.6,109.1 356.3,108.6 357.1,106.4 357.9,105.9 358.6,105.3 359.4,105.1 360.2,105.1 360.9,105.4 361.7,104.8 362.5,104.4 363.2,102.5 364.0,101.7 364.8,98.2 365.5,96.1 366.3,94.5 367.0,95.1 367.8,97.3 368.6,100.6 369.3,104.1 370.1,106.4 370.9,107.9 371.6,109.3 372.4,110.0 373.2,111.0 373.9,111.7 374.7,112.3 375.5,112.2 376.2,111.5 377.0,112.8 377.8,113.2 378.5,113.0 379.3,112.8 380.1,113.4 380.8,114.5 381.6,114.6 382.4,114.3 383.1,114.2 383.9,113.8 384.7,113.3 385.4,112.0 386.2,111.1 387.0,107.2 387.7,103.6 388.5,102.3 389.3,103.4 390.0,106.5 390.8,108.4 391.6,110.5 392.3,110.2 393.1,110.8 393.8,110.4 394.6,109.9 395.4,109.6 396.1,108.8 396.9,108.8 397.7,108.5 398.4,107.6 399.2,106.2 400.0,106.4 400.7,106.1 401.5,105.5 402.3,105.6 403.0,105.8 403.8,106.5 404.6,106.2 405.3,106.8 406.1,106.6 406.9,107.5 407.6,108.0 408.4,108.9 409.2,108.7 409.9,109.5 410.7,109.5 411.5,110.4 412.2,111.6 413.0,111.4 413.8,111.5 414.5,112.0 415.3,113.1 416.1,113.3 416.8,113.5 417.6,113.4 418.3,113.4 419.1,113.6 419.9,113.2 420.6,113.0 421.4,113.2 422.2,113.1 422.9,113.6 423.7,113.2 424.5,113.7 425.2,113.8 426.0,113.8 426.8,113.1 427.5,113.7 428.3,113.0 429.1,113.2 429.8,113.2 430.6,112.8 431.4,112.3 432.1,111.4 432.9,109.6 433.7,106.9 434.4,102.1 435.2,96.7 436.0,88.5 436.7,80.3 437.5,74.6 438.3,73.2 439.0,77.2 439.8,84.6 440.6,92.4 441.3,99.5 442.1,104.5 442.9,107.5 443.6,108.9 444.4,108.4 445.1,106.2 445.9,103.5 446.7,100.6 447.4,100.7 448.2,103.5 449.0,106.5 449.7,109.7 450.5,110.7 451.3,112.2 452.0,112.5 452.8,112.6 453.6,112.1 454.3,111.5 455.1,111.0 455.9,110.2 456.6,108.3 457.4,105.8 458.2,103.1 458.9,100.7 459.7,97.9 460.5,97.1 461.2,96.6 462.0,97.9 462.8,100.4 463.5,102.8 464.3,105.0 465.1,108.1 465.8,109.4 466.6,109.8 467.4,110.8 468.1,111.4 468.9,111.0 469.6,110.1 470.4,109.0 471.2,106.7 471.9,101.8 472.7,95.9 473.5,88.9 474.2,81.4 475.0,76.9 475.8,75.4 476.5,77.8 477.3,80.9 478.1,83.7 478.8,86.1 479.6,87.8 480.4,90.6 481.1,93.4 481.9,97.6 482.7,100.9 483.4,103.9 484.2,106.8 485.0,108.9 485.7,110.4 486.5,110.8 487.3,111.3 488.0,111.3 488.8,111.6 489.6,111.7 490.3,111.7 491.1,111.5 491.9,110.6 492.6,109.7 493.4,109.8 494.1,109.5 494.9,108.8 495.7,107.6 496.4,107.5 497.2,107.3 498.0,107.3 498.7,106.5 499.5,107.8 500.3,108.1 501.0,108.8 501.8,109.6 502.6,109.6 503.3,109.5 504.1,110.5 504.9,110.5 505.6,111.6 506.4,111.7 507.2,112.3 507.9,112.4 508.7,112.5 509.5,113.1 510.2,112.9 511.0,112.9 511.8,113.6 512.5,112.7 513.3,111.6 514.1,110.4 514.8,109.0 515.6,106.0 516.4,103.4 517.1,100.7 517.9,99.4 518.7,99.9 519.4,98.2 520.2,93.3 520.9,83.9 521.7,72.5 522.5,61.6 523.2,57.2 524.0,62.3 524.8,72.7 525.5,85.8 526.3,96.4 527.1,103.2 527.8,107.1 528.6,109.6 529.4,111.8 530.1,112.4 530.9,112.2 531.7,112.1 532.4,112.7 533.2,113.0 534.0,112.8 534.7,113.1 535.5,113.1 536.3,113.2 537.0,113.2 537.8,113.6 538.6,113.7 539.3,113.8 540.1,114.2 540.9,113.3 541.6,113.2 542.4,113.0 543.2,113.2 543.9,113.1 544.7,112.6 545.4,112.5 546.2,113.5 547.0,113.7 547.7,112.9 548.5,113.7 549.3,113.2 550.0,114.0 550.8,114.1 551.6,113.8 552.3,113.4 553.1,113.0 553.9,113.5 554.6,113.6 555.4,113.4 556.2,113.3 556.9,113.1 557.7,113.5" fill="none" stroke="#a8322e" stroke-width="1.25" stroke-linejoin="round"/><rect x="328" y="9.5" width="229.70000000000005" height="196.5" fill="none" stroke="#2a2a2e" stroke-width="1.5"/><line x1="328.0" y1="206.0" x2="328.0" y2="208.6" stroke="#3a3a3a" stroke-width="1.1"/><line x1="347.1" y1="206.0" x2="347.1" y2="208.6" stroke="#3a3a3a" stroke-width="1.1"/><line x1="366.3" y1="206.0" x2="366.3" y2="208.6" stroke="#3a3a3a" stroke-width="1.1"/><line x1="385.4" y1="206.0" x2="385.4" y2="208.6" stroke="#3a3a3a" stroke-width="1.1"/><line x1="404.6" y1="206.0" x2="404.6" y2="208.6" stroke="#3a3a3a" stroke-width="1.1"/><line x1="423.7" y1="206.0" x2="423.7" y2="208.6" stroke="#3a3a3a" stroke-width="1.1"/><line x1="442.9" y1="206.0" x2="442.9" y2="208.6" stroke="#3a3a3a" stroke-width="1.1"/><line x1="462.0" y1="206.0" x2="462.0" y2="208.6" stroke="#3a3a3a" stroke-width="1.1"/><line x1="481.1" y1="206.0" x2="481.1" y2="208.6" stroke="#3a3a3a" stroke-width="1.1"/><line x1="500.3" y1="206.0" x2="500.3" y2="208.6" stroke="#3a3a3a" stroke-width="1.1"/><line x1="519.4" y1="206.0" x2="519.4" y2="208.6" stroke="#3a3a3a" stroke-width="1.1"/><line x1="538.6" y1="206.0" x2="538.6" y2="208.6" stroke="#3a3a3a" stroke-width="1.1"/><line x1="557.7" y1="206.0" x2="557.7" y2="208.6" stroke="#3a3a3a" stroke-width="1.1"/><text x="328.0" y="219.8" font-size="8" font-weight="bold" text-anchor="middle" fill="#000">600</text><text x="366.3" y="219.8" font-size="8" font-weight="bold" text-anchor="middle" fill="#000">800</text><text x="404.6" y="219.8" font-size="8" font-weight="bold" text-anchor="middle" fill="#000">1000</text><text x="442.9" y="219.8" font-size="8" font-weight="bold" text-anchor="middle" fill="#000">1200</text><text x="481.1" y="219.8" font-size="8" font-weight="bold" text-anchor="middle" fill="#000">1400</text><text x="519.4" y="219.8" font-size="8" font-weight="bold" text-anchor="middle" fill="#000">1600</text><text x="557.7" y="219.8" font-size="8" font-weight="bold" text-anchor="middle" fill="#000">1800</text><text x="1.0" y="12.9" font-size="15.8" font-weight="bold" fill="#000">A</text><text transform="translate(298.4,13.3) scale(0.86,1)" font-size="15.3" font-weight="bold" fill="#000">B</text><text transform="translate(3.6,240.3) scale(0.86,1)" font-size="15.8" font-weight="bold" fill="#000">C</text><text transform="translate(295.0,243.4) scale(0.93,1)" font-size="15.3" font-weight="bold" fill="#000">D</text><g transform="translate(39.3,148.5) rotate(-90)"><text x="0" y="0" font-size="9" font-weight="bold" textLength="94.3" lengthAdjust="spacingAndGlyphs" fill="#000">Raman Intensity (a.u.)</text></g><g transform="translate(320.0,148.5) rotate(-90)"><text x="0" y="0" font-size="9" font-weight="bold" textLength="94.3" lengthAdjust="spacingAndGlyphs" fill="#000">Raman Intensity (a.u.)</text></g><text x="122.7" y="233.1" font-size="9.5" font-weight="bold" textLength="68.3" lengthAdjust="spacingAndGlyphs" fill="#000">Raman Shift (cm</text><text x="191.4" y="229.4" font-size="5.9" font-weight="bold" textLength="5.3" lengthAdjust="spacingAndGlyphs" fill="#000">-1</text><text x="197.10000000000002" y="233.1" font-size="9.5" font-weight="bold" fill="#000">)</text><text x="404.3" y="233.1" font-size="9.5" font-weight="bold" textLength="68.3" lengthAdjust="spacingAndGlyphs" fill="#000">Raman Shift (cm</text><text x="473.0" y="229.4" font-size="5.9" font-weight="bold" textLength="5.3" lengthAdjust="spacingAndGlyphs" fill="#000">-1</text><text x="478.70000000000005" y="233.1" font-size="9.5" font-weight="bold" fill="#000">)</text><text x="133.5" y="27.6" font-size="12.3" font-weight="bold" textLength="25.0" lengthAdjust="spacingAndGlyphs" fill="#000">SlpA</text><text x="414.8" y="26.6" font-size="12.5" font-weight="bold" textLength="26.4" lengthAdjust="spacingAndGlyphs" fill="#000">ToxB</text><line x1="175.3" y1="15.7" x2="184.8" y2="15.7" stroke="#6cb4ec" stroke-width="1.9"/><text transform="translate(185.5,18.4) scale(0.95,1)" font-size="8.0" font-weight="bold" fill="#000">0 pg/μL</text><line x1="226.9" y1="15.7" x2="236" y2="15.7" stroke="#ef6f35" stroke-width="1.9"/><text transform="translate(236.5,18.4) scale(0.95,1)" font-size="8.0" font-weight="bold" fill="#000">0.01 pg/μL</text><line x1="175.3" y1="27.8" x2="184.8" y2="27.8" stroke="#a6b2b2" stroke-width="1.9"/><text transform="translate(185.5,30.5) scale(0.95,1)" font-size="8.0" font-weight="bold" fill="#000">0.1 pg/μL</text><line x1="226.9" y1="27.8" x2="236" y2="27.8" stroke="#f5b233" stroke-width="1.9"/><text transform="translate(236.5,30.5) scale(0.95,1)" font-size="8.0" font-weight="bold" fill="#000">1 pg/μL</text><line x1="175.3" y1="39.9" x2="184.8" y2="39.9" stroke="#4c82dc" stroke-width="1.9"/><text transform="translate(185.5,42.6) scale(0.95,1)" font-size="8.0" font-weight="bold" fill="#000">25 pg/μL</text><line x1="226.9" y1="39.9" x2="236" y2="39.9" stroke="#5fd13b" stroke-width="1.9"/><text transform="translate(236.5,42.6) scale(0.95,1)" font-size="8.0" font-weight="bold" fill="#000">50 pg/μL</text><line x1="175.3" y1="52.1" x2="184.8" y2="52.1" stroke="#3b6dd2" stroke-width="1.9"/><text transform="translate(185.5,54.8) scale(0.95,1)" font-size="8.0" font-weight="bold" fill="#000">100 pg/μL</text><line x1="226.9" y1="52.1" x2="236" y2="52.1" stroke="#a8322e" stroke-width="1.9"/><text transform="translate(236.5,54.8) scale(0.95,1)" font-size="8.0" font-weight="bold" fill="#000">200 pg/μL</text><line x1="456.2" y1="15.0" x2="466" y2="15.0" stroke="#6cb4ec" stroke-width="1.9"/><text transform="translate(466.7,17.7) scale(0.95,1)" font-size="8.0" font-weight="bold" fill="#000">0 pg/μL</text><line x1="508.4" y1="15.0" x2="516.4" y2="15.0" stroke="#ef6f35" stroke-width="1.9"/><text transform="translate(517.4,17.7) scale(0.95,1)" font-size="8.0" font-weight="bold" fill="#000">0.01 pg/μL</text><line x1="456.2" y1="26.6" x2="466" y2="26.6" stroke="#a6b2b2" stroke-width="1.9"/><text transform="translate(466.7,29.3) scale(0.95,1)" font-size="8.0" font-weight="bold" fill="#000">0.1 pg/μL</text><line x1="508.4" y1="26.6" x2="516.4" y2="26.6" stroke="#f5b233" stroke-width="1.9"/><text transform="translate(517.4,29.3) scale(0.95,1)" font-size="8.0" font-weight="bold" fill="#000">1 pg/μL</text><line x1="456.2" y1="39.0" x2="466" y2="39.0" stroke="#4c82dc" stroke-width="1.9"/><text transform="translate(466.7,41.7) scale(0.95,1)" font-size="8.0" font-weight="bold" fill="#000">50 pg/μL</text><line x1="508.4" y1="39.0" x2="516.4" y2="39.0" stroke="#5fd13b" stroke-width="1.9"/><text transform="translate(517.4,41.7) scale(0.95,1)" font-size="8.0" font-weight="bold" fill="#000">100 pg/μL</text><line x1="456.2" y1="51.3" x2="466" y2="51.3" stroke="#3b6dd2" stroke-width="1.9"/><text transform="translate(466.7,54.0) scale(0.95,1)" font-size="8.0" font-weight="bold" fill="#000">200 pg/μL</text><line x1="508.4" y1="51.3" x2="516.4" y2="51.3" stroke="#a8322e" stroke-width="1.9"/><text transform="translate(517.4,54.0) scale(0.95,1)" font-size="8.0" font-weight="bold" fill="#000">400 pg/μL</text><rect x="236.7" y="57.3" width="10.9" height="147.5" fill="none" stroke="#2f5fd0" stroke-width="1.35" stroke-dasharray="2.8 1.7"/><rect x="516.5" y="57.0" width="11.4" height="148.0" fill="none" stroke="#2f5fd0" stroke-width="1.35" stroke-dasharray="2.8 1.7"/><rect x="45" y="9.5" width="57.6" height="34.5" fill="#c6c0c8"/><rect x="45" y="46" width="57.6" height="48" fill="#cadbcf"/><rect x="45" y="43.8" width="57.6" height="2.4" fill="#3e1420"/><line x1="45.6" y1="9.5" x2="45.6" y2="94" stroke="#44464c" stroke-width="1.05"/><line x1="52.4" y1="9.5" x2="52.4" y2="94" stroke="#44464c" stroke-width="1.05"/><line x1="59.8" y1="9.5" x2="59.8" y2="94" stroke="#44464c" stroke-width="1.05"/><line x1="67.4" y1="9.5" x2="67.4" y2="94" stroke="#44464c" stroke-width="1.05"/><line x1="74.6" y1="9.5" x2="74.6" y2="94" stroke="#44464c" stroke-width="1.05"/><line x1="82" y1="9.5" x2="82" y2="94" stroke="#44464c" stroke-width="1.05"/><line x1="89.2" y1="9.5" x2="89.2" y2="94" stroke="#44464c" stroke-width="1.05"/><line x1="96.3" y1="9.5" x2="96.3" y2="94" stroke="#44464c" stroke-width="1.05"/><line x1="102.2" y1="9.5" x2="102.2" y2="94" stroke="#44464c" stroke-width="1.05"/><g transform="translate(46.55,22.6) rotate(90)"><text x="0" y="0" font-size="7.4" text-anchor="middle" fill="#1a1a20" stroke="#1a1a20" stroke-width="0.3">200</text></g><g transform="translate(53.25,22.6) rotate(90)"><text x="0" y="0" font-size="7.4" text-anchor="middle" fill="#1a1a20" stroke="#1a1a20" stroke-width="0.3">100</text></g><g transform="translate(60.35,22.6) rotate(90)"><text x="0" y="0" font-size="7.4" text-anchor="middle" fill="#1a1a20" stroke="#1a1a20" stroke-width="0.3">50</text></g><g transform="translate(67.75,22.6) rotate(90)"><text x="0" y="0" font-size="7.4" text-anchor="middle" fill="#1a1a20" stroke="#1a1a20" stroke-width="0.3">25</text></g><g transform="translate(74.75,23.2) rotate(90)"><text x="0" y="0" font-size="7.4" text-anchor="middle" fill="#1a1a20" stroke="#1a1a20" stroke-width="0.3">1</text></g><g transform="translate(82.75,23.2) rotate(90)"><text x="0" y="0" font-size="7.4" text-anchor="middle" fill="#1a1a20" stroke="#1a1a20" stroke-width="0.3">0.1</text></g><g transform="translate(89.75,22.3) rotate(90)"><text x="0" y="0" font-size="7.4" text-anchor="middle" fill="#1a1a20" stroke="#1a1a20" stroke-width="0.3">0.01</text></g><g transform="translate(97.25,22.8) rotate(90)"><text x="0" y="0" font-size="7.4" text-anchor="middle" fill="#1a1a20" stroke="#1a1a20" stroke-width="0.3">0</text></g><line x1="70.0" y1="62.5" x2="70.0" y2="70.9" stroke="#111" stroke-width="1.4"/><path d="M67.6,64.2 L70.0,60.2 L72.4,64.2 Z" fill="#111"/><rect x="327.5" y="9.5" width="56.6" height="83.3" fill="#cfc0c7"/><rect x="327.5" y="32.9" width="6.6" height="59.9" fill="#e8eaec"/><rect x="334.1" y="35.2" width="7.1" height="57.6" fill="#e8eaec"/><rect x="341.2" y="34" width="7.2" height="58.8" fill="#e8eaec"/><rect x="348.4" y="35.2" width="6.8" height="57.6" fill="#e8eaec"/><rect x="355.2" y="31.7" width="7.2" height="61.1" fill="#e8eaec"/><rect x="362.4" y="31.7" width="7.5" height="61.1" fill="#e8eaec"/><rect x="369.9" y="32.9" width="7.2" height="59.9" fill="#e8eaec"/><rect x="377.1" y="30.6" width="7.0" height="62.2" fill="#e8eaec"/><rect x="327.5" y="44.7" width="56.6" height="1.2" fill="#a89496"/><line x1="327.42" y1="9.5" x2="327.95" y2="92.8" stroke="#505258" stroke-width="1.0"/><line x1="333.71" y1="9.5" x2="336.22" y2="92.8" stroke="#505258" stroke-width="1.0"/><line x1="340.81" y1="9.5" x2="343.32" y2="92.8" stroke="#505258" stroke-width="1.0"/><line x1="348.03" y1="9.5" x2="350.37" y2="92.8" stroke="#505258" stroke-width="1.0"/><line x1="354.66" y1="9.5" x2="358.08" y2="92.8" stroke="#505258" stroke-width="1.0"/><line x1="361.89" y1="9.5" x2="365.13" y2="92.8" stroke="#505258" stroke-width="1.0"/><line x1="369.56" y1="9.5" x2="371.72" y2="92.8" stroke="#505258" stroke-width="1.0"/><line x1="376.79" y1="9.5" x2="378.77" y2="92.8" stroke="#505258" stroke-width="1.0"/><line x1="383.93" y1="9.5" x2="385.01" y2="92.8" stroke="#505258" stroke-width="1.0"/><g transform="translate(327.70,21.7) rotate(90)"><text x="0" y="0" font-size="7.6" text-anchor="middle" fill="#1a1a20" stroke="#1a1a20" stroke-width="0.3">400</text></g><g transform="translate(334.70,21.7) rotate(90)"><text x="0" y="0" font-size="7.6" text-anchor="middle" fill="#1a1a20" stroke="#1a1a20" stroke-width="0.3">200</text></g><g transform="translate(342.00,21.7) rotate(90)"><text x="0" y="0" font-size="7.6" text-anchor="middle" fill="#1a1a20" stroke="#1a1a20" stroke-width="0.3">100</text></g><g transform="translate(349.40,21.7) rotate(90)"><text x="0" y="0" font-size="7.6" text-anchor="middle" fill="#1a1a20" stroke="#1a1a20" stroke-width="0.3">50</text></g><g transform="translate(356.80,21.2) rotate(90)"><text x="0" y="0" font-size="7.6" text-anchor="middle" fill="#1a1a20" stroke="#1a1a20" stroke-width="0.3">1</text></g><g transform="translate(364.90,20.6) rotate(90)"><text x="0" y="0" font-size="7.6" text-anchor="middle" fill="#1a1a20" stroke="#1a1a20" stroke-width="0.3">0.1</text></g><g transform="translate(371.80,21.2) rotate(90)"><text x="0" y="0" font-size="7.6" text-anchor="middle" fill="#1a1a20" stroke="#1a1a20" stroke-width="0.3">0.01</text></g><g transform="translate(379.20,20.4) rotate(90)"><text x="0" y="0" font-size="7.6" text-anchor="middle" fill="#1a1a20" stroke="#1a1a20" stroke-width="0.3">0</text></g><line x1="345.2" y1="58" x2="345.2" y2="65.6" stroke="#111" stroke-width="1.4"/><path d="M342.7,59.6 L345.2,55.4 L347.7,59.6 Z" fill="#111"/><rect x="46" y="245.5" width="231.4" height="195.2" fill="none" stroke="#2a2a2e" stroke-width="1.5"/><line x1="43.4" y1="440.7" x2="46" y2="440.7" stroke="#2a2a2e" stroke-width="1.1"/><text transform="translate(38.3,443.6) scale(0.88,1)" font-size="8.3" font-weight="bold" text-anchor="end" fill="#000">0</text><line x1="43.4" y1="426.8" x2="46" y2="426.8" stroke="#2a2a2e" stroke-width="1.1"/><line x1="43.4" y1="412.8" x2="46" y2="412.8" stroke="#2a2a2e" stroke-width="1.1"/><text transform="translate(38.3,415.7) scale(0.88,1)" font-size="8.3" font-weight="bold" text-anchor="end" fill="#000">2K</text><line x1="43.4" y1="398.9" x2="46" y2="398.9" stroke="#2a2a2e" stroke-width="1.1"/><line x1="43.4" y1="384.9" x2="46" y2="384.9" stroke="#2a2a2e" stroke-width="1.1"/><text transform="translate(38.3,387.8) scale(0.88,1)" font-size="8.3" font-weight="bold" text-anchor="end" fill="#000">4K</text><line x1="43.4" y1="371.0" x2="46" y2="371.0" stroke="#2a2a2e" stroke-width="1.1"/><line x1="43.4" y1="357.1" x2="46" y2="357.1" stroke="#2a2a2e" stroke-width="1.1"/><text transform="translate(38.3,360.0) scale(0.88,1)" font-size="8.3" font-weight="bold" text-anchor="end" fill="#000">6K</text><line x1="43.4" y1="343.1" x2="46" y2="343.1" stroke="#2a2a2e" stroke-width="1.1"/><line x1="43.4" y1="329.2" x2="46" y2="329.2" stroke="#2a2a2e" stroke-width="1.1"/><text transform="translate(38.3,332.1) scale(0.88,1)" font-size="8.3" font-weight="bold" text-anchor="end" fill="#000">8K</text><line x1="43.4" y1="315.2" x2="46" y2="315.2" stroke="#2a2a2e" stroke-width="1.1"/><line x1="43.4" y1="301.3" x2="46" y2="301.3" stroke="#2a2a2e" stroke-width="1.1"/><text transform="translate(38.3,304.2) scale(0.88,1)" font-size="8.3" font-weight="bold" text-anchor="end" fill="#000">10K</text><line x1="43.4" y1="287.4" x2="46" y2="287.4" stroke="#2a2a2e" stroke-width="1.1"/><line x1="43.4" y1="273.4" x2="46" y2="273.4" stroke="#2a2a2e" stroke-width="1.1"/><text transform="translate(38.3,276.3) scale(0.88,1)" font-size="8.3" font-weight="bold" text-anchor="end" fill="#000">12K</text><line x1="43.4" y1="259.5" x2="46" y2="259.5" stroke="#2a2a2e" stroke-width="1.1"/><line x1="43.4" y1="245.5" x2="46" y2="245.5" stroke="#2a2a2e" stroke-width="1.1"/><text transform="translate(38.3,248.4) scale(0.88,1)" font-size="8.3" font-weight="bold" text-anchor="end" fill="#000">14K</text><line x1="46.0" y1="440.7" x2="46.0" y2="443.3" stroke="#2a2a2e" stroke-width="1.1"/><line x1="67.0" y1="440.7" x2="67.0" y2="443.3" stroke="#2a2a2e" stroke-width="1.1"/><line x1="88.1" y1="440.7" x2="88.1" y2="443.3" stroke="#2a2a2e" stroke-width="1.1"/><line x1="109.1" y1="440.7" x2="109.1" y2="443.3" stroke="#2a2a2e" stroke-width="1.1"/><line x1="130.2" y1="440.7" x2="130.2" y2="443.3" stroke="#2a2a2e" stroke-width="1.1"/><line x1="151.2" y1="440.7" x2="151.2" y2="443.3" stroke="#2a2a2e" stroke-width="1.1"/><line x1="172.2" y1="440.7" x2="172.2" y2="443.3" stroke="#2a2a2e" stroke-width="1.1"/><line x1="193.3" y1="440.7" x2="193.3" y2="443.3" stroke="#2a2a2e" stroke-width="1.1"/><line x1="214.3" y1="440.7" x2="214.3" y2="443.3" stroke="#2a2a2e" stroke-width="1.1"/><line x1="235.3" y1="440.7" x2="235.3" y2="443.3" stroke="#2a2a2e" stroke-width="1.1"/><line x1="256.4" y1="440.7" x2="256.4" y2="443.3" stroke="#2a2a2e" stroke-width="1.1"/><line x1="277.4" y1="440.7" x2="277.4" y2="443.3" stroke="#2a2a2e" stroke-width="1.1"/><text transform="translate(88.1,454.6) scale(0.92,1)" font-size="8.4" font-weight="bold" text-anchor="middle" fill="#000">0</text><text transform="translate(130.2,454.6) scale(0.92,1)" font-size="8.4" font-weight="bold" text-anchor="middle" fill="#000">50</text><text transform="translate(172.2,454.6) scale(0.92,1)" font-size="8.4" font-weight="bold" text-anchor="middle" fill="#000">100</text><text transform="translate(214.3,454.6) scale(0.92,1)" font-size="8.4" font-weight="bold" text-anchor="middle" fill="#000">150</text><text transform="translate(256.4,454.6) scale(0.92,1)" font-size="8.4" font-weight="bold" text-anchor="middle" fill="#000">200</text><text x="102.7" y="468.7" font-size="9.4" font-weight="bold" textLength="118.5" lengthAdjust="spacingAndGlyphs" fill="#000">SlpA Concentration (pg/μL)</text><g transform="translate(19.2,406.8) rotate(-90)"><text x="0" y="0" font-size="9.2" font-weight="bold" textLength="124.0" lengthAdjust="spacingAndGlyphs" fill="#000">Raman Intensity @ 1620 cm</text><text x="124.6" y="-4.1" font-size="5.5" font-weight="bold" fill="#000">-1</text></g><text x="173.7" y="262.4" font-size="12.5" font-weight="bold" textLength="24.8" lengthAdjust="spacingAndGlyphs" fill="#000">SlpA</text><path d="M88.6,415.4 V421 M87.3,415.4 H89.89999999999999 M87.3,421 H89.89999999999999" stroke="#333" stroke-width="1.0" fill="none"/><path d="M109.6,405.8 V413.5 M108.3,405.8 H110.89999999999999 M108.3,413.5 H110.89999999999999" stroke="#333" stroke-width="1.0" fill="none"/><path d="M130.2,388.7 V398.2 M128.89999999999998,388.7 H131.5 M128.89999999999998,398.2 H131.5" stroke="#333" stroke-width="1.0" fill="none"/><path d="M172.6,355.3 V367.7 M171.29999999999998,355.3 H173.9 M171.29999999999998,367.7 H173.9" stroke="#333" stroke-width="1.0" fill="none"/><path d="M256.4,252.6 V276.3 M255.09999999999997,252.6 H257.7 M255.09999999999997,276.3 H257.7" stroke="#333" stroke-width="1.0" fill="none"/><path d="M86.3,420.1 L88.6,416.1 L90.8,420.1 Z" fill="#f01010"/><path d="M86.3,424.1 L88.6,420.1 L90.8,424.1 Z" fill="#f01010"/><path d="M86.3,426.1 L88.6,422.1 L90.8,426.1 Z" fill="#f01010"/><path d="M107.3,412.1 L109.6,408.1 L111.8,412.1 Z" fill="#f01010"/><path d="M127.9,395.9 L130.2,391.9 L132.4,395.9 Z" fill="#f01010"/><path d="M170.3,363.9 L172.6,359.9 L174.8,363.9 Z" fill="#f01010"/><path d="M254.1,266.9 L256.4,262.9 L258.6,266.9 Z" fill="#f01010"/><rect x="55.5" y="250.6" width="98.2" height="88.4" fill="#fff" stroke="#2a2a2e" stroke-width="1.2"/><line x1="55.5" y1="339.0" x2="55.5" y2="341.3" stroke="#2a2a2e" stroke-width="1.0"/><line x1="64.5" y1="339.0" x2="64.5" y2="341.3" stroke="#2a2a2e" stroke-width="1.0"/><line x1="73.4" y1="339.0" x2="73.4" y2="341.3" stroke="#2a2a2e" stroke-width="1.0"/><line x1="82.3" y1="339.0" x2="82.3" y2="341.3" stroke="#2a2a2e" stroke-width="1.0"/><line x1="91.3" y1="339.0" x2="91.3" y2="341.3" stroke="#2a2a2e" stroke-width="1.0"/><line x1="100.2" y1="339.0" x2="100.2" y2="341.3" stroke="#2a2a2e" stroke-width="1.0"/><line x1="109.2" y1="339.0" x2="109.2" y2="341.3" stroke="#2a2a2e" stroke-width="1.0"/><line x1="118.2" y1="339.0" x2="118.2" y2="341.3" stroke="#2a2a2e" stroke-width="1.0"/><line x1="127.1" y1="339.0" x2="127.1" y2="341.3" stroke="#2a2a2e" stroke-width="1.0"/><line x1="136.1" y1="339.0" x2="136.1" y2="341.3" stroke="#2a2a2e" stroke-width="1.0"/><line x1="145.0" y1="339.0" x2="145.0" y2="341.3" stroke="#2a2a2e" stroke-width="1.0"/><line x1="153.9" y1="339.0" x2="153.9" y2="341.3" stroke="#2a2a2e" stroke-width="1.0"/><text transform="translate(73.4,351.6) scale(0.93,1)" font-size="8.0" font-weight="bold" text-anchor="middle" fill="#000">0</text><text transform="translate(91.3,351.6) scale(0.93,1)" font-size="8.0" font-weight="bold" text-anchor="middle" fill="#000">25</text><text transform="translate(109.2,351.6) scale(0.93,1)" font-size="8.0" font-weight="bold" text-anchor="middle" fill="#000">50</text><text transform="translate(127.1,351.6) scale(0.93,1)" font-size="8.0" font-weight="bold" text-anchor="middle" fill="#000">75</text><text transform="translate(145.0,351.6) scale(0.93,1)" font-size="8.0" font-weight="bold" text-anchor="middle" fill="#000">100</text><line x1="73.3" y1="332.4" x2="145.6" y2="264.8" stroke="#111" stroke-width="1.1"/><path d="M73.3,326 V333.5 M72.0,326 H74.6 M72.0,333.5 H74.6" stroke="#333" stroke-width="1.0" fill="none"/><path d="M91.3,315.5 V323 M90.0,315.5 H92.6 M90.0,323 H92.6" stroke="#333" stroke-width="1.0" fill="none"/><path d="M109.4,295 V305.6 M108.10000000000001,295 H110.7 M108.10000000000001,305.6 H110.7" stroke="#333" stroke-width="1.0" fill="none"/><path d="M145.4,256.2 V270.6 M144.1,256.2 H146.70000000000002 M144.1,270.6 H146.70000000000002" stroke="#333" stroke-width="1.0" fill="none"/><rect x="71.7" y="330.1" width="3.2" height="3.2" fill="#f01010"/><rect x="71.7" y="328.0" width="3.2" height="3.2" fill="#f01010"/><rect x="71.7" y="326.2" width="3.2" height="3.2" fill="#f01010"/><rect x="89.7" y="317.6" width="3.2" height="3.2" fill="#f01010"/><rect x="107.8" y="298.9" width="3.2" height="3.2" fill="#f01010"/><rect x="143.8" y="261.6" width="3.2" height="3.2" fill="#f01010"/><text x="65.9" y="263.0" font-size="8.0" font-weight="bold" textLength="39.6" lengthAdjust="spacingAndGlyphs" fill="#000">R² = 0.9907</text><text x="58.9" y="273.0" font-size="8.0" font-weight="bold" textLength="52.9" lengthAdjust="spacingAndGlyphs" fill="#000">(0.1-100 pg/μL)</text><rect x="328.5" y="245.5" width="229.5" height="194.1" fill="none" stroke="#2a2a2e" stroke-width="1.5"/><line x1="325.9" y1="439.6" x2="328.5" y2="439.6" stroke="#2a2a2e" stroke-width="1.1"/><text transform="translate(320,442.5) scale(0.88,1)" font-size="8.3" font-weight="bold" text-anchor="end" fill="#000">0</text><line x1="325.9" y1="426.7" x2="328.5" y2="426.7" stroke="#2a2a2e" stroke-width="1.1"/><line x1="325.9" y1="413.8" x2="328.5" y2="413.8" stroke="#2a2a2e" stroke-width="1.1"/><text transform="translate(320,416.7) scale(0.88,1)" font-size="8.3" font-weight="bold" text-anchor="end" fill="#000">2K</text><line x1="325.9" y1="400.9" x2="328.5" y2="400.9" stroke="#2a2a2e" stroke-width="1.1"/><line x1="325.9" y1="388.0" x2="328.5" y2="388.0" stroke="#2a2a2e" stroke-width="1.1"/><text transform="translate(320,390.9) scale(0.88,1)" font-size="8.3" font-weight="bold" text-anchor="end" fill="#000">4K</text><line x1="325.9" y1="375.1" x2="328.5" y2="375.1" stroke="#2a2a2e" stroke-width="1.1"/><line x1="325.9" y1="362.2" x2="328.5" y2="362.2" stroke="#2a2a2e" stroke-width="1.1"/><text transform="translate(320,365.1) scale(0.88,1)" font-size="8.3" font-weight="bold" text-anchor="end" fill="#000">6K</text><line x1="325.9" y1="349.3" x2="328.5" y2="349.3" stroke="#2a2a2e" stroke-width="1.1"/><line x1="325.9" y1="336.4" x2="328.5" y2="336.4" stroke="#2a2a2e" stroke-width="1.1"/><text transform="translate(320,339.3) scale(0.88,1)" font-size="8.3" font-weight="bold" text-anchor="end" fill="#000">8K</text><line x1="325.9" y1="323.5" x2="328.5" y2="323.5" stroke="#2a2a2e" stroke-width="1.1"/><line x1="325.9" y1="310.6" x2="328.5" y2="310.6" stroke="#2a2a2e" stroke-width="1.1"/><text transform="translate(320,313.5) scale(0.88,1)" font-size="8.3" font-weight="bold" text-anchor="end" fill="#000">10K</text><line x1="325.9" y1="297.7" x2="328.5" y2="297.7" stroke="#2a2a2e" stroke-width="1.1"/><line x1="325.9" y1="284.8" x2="328.5" y2="284.8" stroke="#2a2a2e" stroke-width="1.1"/><text transform="translate(320,287.7) scale(0.88,1)" font-size="8.3" font-weight="bold" text-anchor="end" fill="#000">12K</text><line x1="325.9" y1="271.9" x2="328.5" y2="271.9" stroke="#2a2a2e" stroke-width="1.1"/><line x1="325.9" y1="259.0" x2="328.5" y2="259.0" stroke="#2a2a2e" stroke-width="1.1"/><text transform="translate(320,261.9) scale(0.88,1)" font-size="8.3" font-weight="bold" text-anchor="end" fill="#000">14K</text><line x1="325.9" y1="246.1" x2="328.5" y2="246.1" stroke="#2a2a2e" stroke-width="1.1"/><line x1="328.5" y1="439.6" x2="328.5" y2="442.20000000000005" stroke="#2a2a2e" stroke-width="1.1"/><line x1="349.4" y1="439.6" x2="349.4" y2="442.20000000000005" stroke="#2a2a2e" stroke-width="1.1"/><line x1="370.2" y1="439.6" x2="370.2" y2="442.20000000000005" stroke="#2a2a2e" stroke-width="1.1"/><line x1="391.1" y1="439.6" x2="391.1" y2="442.20000000000005" stroke="#2a2a2e" stroke-width="1.1"/><line x1="411.9" y1="439.6" x2="411.9" y2="442.20000000000005" stroke="#2a2a2e" stroke-width="1.1"/><line x1="432.8" y1="439.6" x2="432.8" y2="442.20000000000005" stroke="#2a2a2e" stroke-width="1.1"/><line x1="453.6" y1="439.6" x2="453.6" y2="442.20000000000005" stroke="#2a2a2e" stroke-width="1.1"/><line x1="474.4" y1="439.6" x2="474.4" y2="442.20000000000005" stroke="#2a2a2e" stroke-width="1.1"/><line x1="495.3" y1="439.6" x2="495.3" y2="442.20000000000005" stroke="#2a2a2e" stroke-width="1.1"/><line x1="516.1" y1="439.6" x2="516.1" y2="442.20000000000005" stroke="#2a2a2e" stroke-width="1.1"/><line x1="537.0" y1="439.6" x2="537.0" y2="442.20000000000005" stroke="#2a2a2e" stroke-width="1.1"/><line x1="557.9" y1="439.6" x2="557.9" y2="442.20000000000005" stroke="#2a2a2e" stroke-width="1.1"/><text transform="translate(370.2,454.2) scale(0.92,1)" font-size="8.4" font-weight="bold" text-anchor="middle" fill="#000">0</text><text transform="translate(411.9,454.2) scale(0.92,1)" font-size="8.4" font-weight="bold" text-anchor="middle" fill="#000">100</text><text transform="translate(453.6,454.2) scale(0.92,1)" font-size="8.4" font-weight="bold" text-anchor="middle" fill="#000">200</text><text transform="translate(495.3,454.2) scale(0.92,1)" font-size="8.4" font-weight="bold" text-anchor="middle" fill="#000">300</text><text transform="translate(537.0,454.2) scale(0.92,1)" font-size="8.4" font-weight="bold" text-anchor="middle" fill="#000">400</text><text x="381.1" y="468.0" font-size="9.6" font-weight="bold" textLength="125" lengthAdjust="spacingAndGlyphs" fill="#000">ToxB Concentration (pg/μL)</text><g transform="translate(299.7,409.0) rotate(-90)"><text x="0" y="0" font-size="10.2" font-weight="bold" textLength="127.5" lengthAdjust="spacingAndGlyphs" fill="#000">Ramna Intensity @ 1620 Cm</text><text x="128.1" y="-4.6" font-size="6.1" font-weight="bold" fill="#000">-1</text></g><text x="451.3" y="262.1" font-size="12.5" font-weight="bold" textLength="25.9" lengthAdjust="spacingAndGlyphs" fill="#000">ToxB</text><path d="M370.2,400.5 V407 M368.9,400.5 H371.5 M368.9,407 H371.5" stroke="#333" stroke-width="1.0" fill="none"/><path d="M391.1,388.9 V400.5 M389.8,388.9 H392.40000000000003 M389.8,400.5 H392.40000000000003" stroke="#333" stroke-width="1.0" fill="none"/><path d="M412.2,372.1 V385.6 M410.9,372.1 H413.5 M410.9,385.6 H413.5" stroke="#333" stroke-width="1.0" fill="none"/><path d="M453.4,350.3 V368.5 M452.09999999999997,350.3 H454.7 M452.09999999999997,368.5 H454.7" stroke="#333" stroke-width="1.0" fill="none"/><path d="M537.4,256.9 V286.2 M536.1,256.9 H538.6999999999999 M536.1,286.2 H538.6999999999999" stroke="#333" stroke-width="1.0" fill="none"/><path d="M367.9,405.8 L370.2,401.8 L372.4,405.8 Z" fill="#f01010"/><path d="M367.9,411.5 L370.2,407.5 L372.4,411.5 Z" fill="#f01010"/><path d="M367.9,416.5 L370.2,412.5 L372.4,416.5 Z" fill="#f01010"/><path d="M388.9,397.2 L391.1,393.2 L393.4,397.2 Z" fill="#f01010"/><path d="M409.9,380.9 L412.2,376.9 L414.4,380.9 Z" fill="#f01010"/><path d="M451.1,362.0 L453.4,358.0 L455.6,362.0 Z" fill="#f01010"/><path d="M535.1,274.1 L537.4,270.1 L539.6,274.1 Z" fill="#f01010"/><rect x="338.3" y="252.0" width="98.9" height="87.4" fill="#fff" stroke="#2a2a2e" stroke-width="1.2"/><line x1="338.3" y1="339.4" x2="338.3" y2="341.7" stroke="#2a2a2e" stroke-width="1.0"/><line x1="346.6" y1="339.4" x2="346.6" y2="341.7" stroke="#2a2a2e" stroke-width="1.0"/><line x1="354.9" y1="339.4" x2="354.9" y2="341.7" stroke="#2a2a2e" stroke-width="1.0"/><line x1="363.2" y1="339.4" x2="363.2" y2="341.7" stroke="#2a2a2e" stroke-width="1.0"/><line x1="371.5" y1="339.4" x2="371.5" y2="341.7" stroke="#2a2a2e" stroke-width="1.0"/><line x1="379.8" y1="339.4" x2="379.8" y2="341.7" stroke="#2a2a2e" stroke-width="1.0"/><line x1="388.1" y1="339.4" x2="388.1" y2="341.7" stroke="#2a2a2e" stroke-width="1.0"/><line x1="396.5" y1="339.4" x2="396.5" y2="341.7" stroke="#2a2a2e" stroke-width="1.0"/><line x1="404.8" y1="339.4" x2="404.8" y2="341.7" stroke="#2a2a2e" stroke-width="1.0"/><line x1="413.1" y1="339.4" x2="413.1" y2="341.7" stroke="#2a2a2e" stroke-width="1.0"/><line x1="421.4" y1="339.4" x2="421.4" y2="341.7" stroke="#2a2a2e" stroke-width="1.0"/><line x1="429.7" y1="339.4" x2="429.7" y2="341.7" stroke="#2a2a2e" stroke-width="1.0"/><text transform="translate(354.9,352.2) scale(0.93,1)" font-size="7.7" font-weight="bold" text-anchor="middle" fill="#000">0</text><text transform="translate(371.5,352.2) scale(0.93,1)" font-size="7.7" font-weight="bold" text-anchor="middle" fill="#000">50</text><text transform="translate(388.1,352.2) scale(0.93,1)" font-size="7.7" font-weight="bold" text-anchor="middle" fill="#000">100</text><text transform="translate(404.8,352.2) scale(0.93,1)" font-size="7.7" font-weight="bold" text-anchor="middle" fill="#000">150</text><text transform="translate(421.4,352.2) scale(0.93,1)" font-size="7.7" font-weight="bold" text-anchor="middle" fill="#000">200</text><text transform="translate(438.0,352.2) scale(0.93,1)" font-size="7.7" font-weight="bold" text-anchor="middle" fill="#000">250</text><line x1="354.5" y1="317.5" x2="421" y2="268.1" stroke="#111" stroke-width="1.1"/><path d="M354.5,311.2 V323 M353.2,311.2 H355.8 M353.2,323 H355.8" stroke="#333" stroke-width="1.0" fill="none"/><path d="M371.5,299.8 V311.2 M370.2,299.8 H372.8 M370.2,311.2 H372.8" stroke="#333" stroke-width="1.0" fill="none"/><path d="M388,282.7 V296.1 M386.7,282.7 H389.3 M386.7,296.1 H389.3" stroke="#333" stroke-width="1.0" fill="none"/><path d="M421,259.6 V278.6 M419.7,259.6 H422.3 M419.7,278.6 H422.3" stroke="#333" stroke-width="1.0" fill="none"/><rect x="352.9" y="314.0" width="3.2" height="3.2" fill="#f01010"/><rect x="352.9" y="320.1" width="3.2" height="3.2" fill="#f01010"/><rect x="369.9" y="303.8" width="3.2" height="3.2" fill="#f01010"/><rect x="386.4" y="287.7" width="3.2" height="3.2" fill="#f01010"/><rect x="419.4" y="267.3" width="3.2" height="3.2" fill="#f01010"/><text x="349.5" y="262.9" font-size="8.0" font-weight="bold" textLength="40.9" lengthAdjust="spacingAndGlyphs" fill="#000">R² = 0.9816</text><text x="342.7" y="272.8" font-size="8.0" font-weight="bold" textLength="55.5" lengthAdjust="spacingAndGlyphs" fill="#000">(0.1-200 pg/μL)</text></svg>
</body></html>
